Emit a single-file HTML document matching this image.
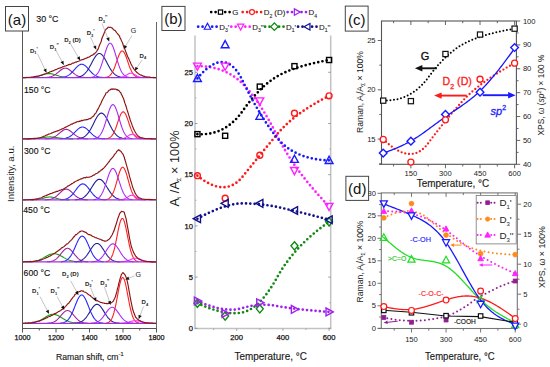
<!DOCTYPE html>
<html><head><meta charset="utf-8"><style>
html,body{margin:0;padding:0;background:#fff;width:550px;height:367px;overflow:hidden}
svg{display:block;font-family:"Liberation Sans", sans-serif}
</style></head><body>
<svg width="550" height="367" viewBox="0 0 550 367">
<rect width="550" height="367" fill="#fff"/>
<polyline fill="none" stroke="#10a010" stroke-width="1.1" stroke-linejoin="round"  points="25.58,77.58 26.37,77.57 27.16,77.55 27.96,77.54 28.75,77.51 29.55,77.48 30.34,77.44 31.13,77.40 31.93,77.34 32.72,77.26 33.52,77.17 34.31,77.07 35.10,76.94 35.90,76.79 36.69,76.63 37.49,76.44 38.28,76.23 39.07,76.00 39.87,75.76 40.66,75.51 41.46,75.25 42.25,74.99 43.04,74.73 43.84,74.48 44.63,74.25 45.43,74.05 46.22,73.88 47.01,73.74 47.81,73.65 48.60,73.61 49.40,73.61 50.19,73.65 50.99,73.74 51.78,73.88 52.57,74.05 53.37,74.25 54.16,74.48 54.96,74.73 55.75,74.99 56.54,75.25 57.34,75.51 58.13,75.76 58.93,76.00 59.72,76.23 60.51,76.44 61.31,76.63 62.10,76.79 62.90,76.94 63.69,77.07 64.48,77.17 65.28,77.26 66.07,77.34 66.87,77.40 67.66,77.44 68.45,77.48 69.25,77.51 70.04,77.54 70.84,77.55 71.63,77.57 72.42,77.58"/>
<polyline fill="none" stroke="#a020a0" stroke-width="1.1" stroke-linejoin="round"  points="43.83,77.54 44.56,77.52 45.28,77.49 46.01,77.45 46.74,77.40 47.47,77.32 48.20,77.24 48.92,77.12 49.65,76.98 50.38,76.81 51.11,76.60 51.83,76.35 52.56,76.05 53.29,75.71 54.02,75.31 54.75,74.87 55.47,74.38 56.20,73.85 56.93,73.28 57.66,72.69 58.39,72.07 59.11,71.46 59.84,70.85 60.57,70.27 61.30,69.73 62.02,69.26 62.75,68.85 63.48,68.54 64.21,68.32 64.94,68.21 65.66,68.21 66.39,68.32 67.12,68.54 67.85,68.85 68.58,69.26 69.30,69.73 70.03,70.27 70.76,70.85 71.49,71.46 72.21,72.07 72.94,72.69 73.67,73.28 74.40,73.85 75.13,74.38 75.85,74.87 76.58,75.31 77.31,75.71 78.04,76.05 78.77,76.35 79.49,76.60 80.22,76.81 80.95,76.98 81.68,77.12 82.40,77.24 83.13,77.32 83.86,77.40 84.59,77.45 85.32,77.49 86.04,77.52 86.77,77.54"/>
<polyline fill="none" stroke="#2828ff" stroke-width="1.1" stroke-linejoin="round"  points="59.06,77.52 59.82,77.49 60.59,77.44 61.36,77.38 62.13,77.31 62.89,77.21 63.66,77.08 64.43,76.92 65.20,76.72 65.96,76.47 66.73,76.17 67.50,75.81 68.27,75.39 69.04,74.90 69.80,74.34 70.57,73.71 71.34,73.01 72.11,72.26 72.87,71.45 73.64,70.60 74.41,69.72 75.18,68.84 75.94,67.98 76.71,67.15 77.48,66.38 78.25,65.71 79.01,65.13 79.78,64.68 80.55,64.38 81.32,64.22 82.08,64.22 82.85,64.38 83.62,64.68 84.39,65.13 85.15,65.71 85.92,66.38 86.69,67.15 87.46,67.98 88.22,68.84 88.99,69.72 89.76,70.60 90.53,71.45 91.29,72.26 92.06,73.01 92.83,73.71 93.60,74.34 94.36,74.90 95.13,75.39 95.90,75.81 96.67,76.17 97.44,76.47 98.20,76.72 98.97,76.92 99.74,77.08 100.51,77.21 101.27,77.31 102.04,77.38 102.81,77.44 103.58,77.49 104.34,77.52"/>
<polyline fill="none" stroke="#202098" stroke-width="1.1" stroke-linejoin="round"  points="74.80,77.46 75.64,77.40 76.47,77.32 77.31,77.21 78.14,77.07 78.97,76.89 79.81,76.66 80.64,76.37 81.47,76.01 82.31,75.57 83.14,75.03 83.98,74.38 84.81,73.62 85.64,72.74 86.48,71.74 87.31,70.60 88.14,69.35 88.98,67.99 89.81,66.53 90.65,65.00 91.48,63.43 92.31,61.85 93.15,60.29 93.98,58.80 94.81,57.43 95.65,56.21 96.48,55.18 97.32,54.37 98.15,53.82 98.98,53.54 99.82,53.54 100.65,53.82 101.48,54.37 102.32,55.18 103.15,56.21 103.99,57.43 104.82,58.80 105.65,60.29 106.49,61.85 107.32,63.43 108.15,65.00 108.99,66.53 109.82,67.99 110.66,69.35 111.49,70.60 112.32,71.74 113.16,72.74 113.99,73.62 114.82,74.38 115.66,75.03 116.49,75.57 117.33,76.01 118.16,76.37 118.99,76.66 119.83,76.89 120.66,77.07 121.49,77.21 122.33,77.32 123.16,77.40 124.00,77.46"/>
<polyline fill="none" stroke="#ff2020" stroke-width="1.1" stroke-linejoin="round"  points="104.63,77.44 105.23,77.38 105.82,77.29 106.42,77.17 107.01,77.02 107.61,76.82 108.21,76.56 108.80,76.24 109.40,75.84 109.99,75.35 110.59,74.75 111.18,74.04 111.78,73.19 112.37,72.22 112.97,71.10 113.56,69.85 114.16,68.46 114.76,66.95 115.35,65.34 115.95,63.64 116.54,61.90 117.14,60.15 117.73,58.42 118.33,56.78 118.92,55.25 119.52,53.90 120.12,52.76 120.71,51.86 121.31,51.25 121.90,50.94 122.50,50.94 123.09,51.25 123.69,51.86 124.28,52.76 124.88,53.90 125.48,55.25 126.07,56.78 126.67,58.42 127.26,60.15 127.86,61.90 128.45,63.64 129.05,65.34 129.64,66.95 130.24,68.46 130.84,69.85 131.43,71.10 132.03,72.22 132.62,73.19 133.22,74.04 133.81,74.75 134.41,75.35 135.00,75.84 135.60,76.24 136.19,76.56 136.79,76.82 137.39,77.02 137.98,77.17 138.58,77.29 139.17,77.38 139.77,77.44"/>
<polyline fill="none" stroke="#ff30ff" stroke-width="1.1" stroke-linejoin="round"  points="117.24,77.57 117.70,77.56 118.16,77.55 118.63,77.53 119.09,77.50 119.55,77.47 120.02,77.43 120.48,77.38 120.94,77.31 121.40,77.23 121.87,77.13 122.33,77.01 122.79,76.87 123.26,76.71 123.72,76.53 124.18,76.32 124.65,76.09 125.11,75.85 125.57,75.58 126.04,75.30 126.50,75.01 126.96,74.72 127.43,74.44 127.89,74.17 128.35,73.92 128.82,73.69 129.28,73.51 129.74,73.36 130.21,73.26 130.67,73.21 131.13,73.21 131.59,73.26 132.06,73.36 132.52,73.51 132.98,73.69 133.45,73.92 133.91,74.17 134.37,74.44 134.84,74.72 135.30,75.01 135.76,75.30 136.23,75.58 136.69,75.85 137.15,76.09 137.62,76.32 138.08,76.53 138.54,76.71 139.01,76.87 139.47,77.01 139.93,77.13 140.40,77.23 140.86,77.31 141.32,77.38 141.78,77.43 142.25,77.47 142.71,77.50 143.17,77.53 143.64,77.55 144.10,77.56 144.56,77.57"/>
<polyline fill="none" stroke="#a82cf6" stroke-width="1.1" stroke-linejoin="round"  points="90.58,77.39 91.24,77.31 91.90,77.20 92.57,77.05 93.23,76.85 93.89,76.59 94.55,76.26 95.21,75.85 95.87,75.33 96.54,74.70 97.20,73.93 97.86,73.01 98.52,71.92 99.18,70.67 99.84,69.23 100.51,67.62 101.17,65.83 101.83,63.88 102.49,61.80 103.15,59.62 103.81,57.37 104.48,55.11 105.14,52.89 105.80,50.77 106.46,48.81 107.12,47.06 107.78,45.59 108.45,44.44 109.11,43.65 109.77,43.25 110.43,43.25 111.09,43.65 111.75,44.44 112.42,45.59 113.08,47.06 113.74,48.81 114.40,50.77 115.06,52.89 115.72,55.11 116.39,57.37 117.05,59.62 117.71,61.80 118.37,63.88 119.03,65.83 119.69,67.62 120.36,69.23 121.02,70.67 121.68,71.92 122.34,73.01 123.00,73.93 123.66,74.70 124.33,75.33 124.99,75.85 125.65,76.26 126.31,76.59 126.97,76.85 127.63,77.05 128.30,77.20 128.96,77.31 129.62,77.39"/>
<line x1="22.50" y1="77.60" x2="156.50" y2="77.60" stroke="#a030e0" stroke-width="1.2" />
<polyline fill="none" stroke="#8a1414" stroke-width="1.15" stroke-linejoin="round"  points="22.50,77.64 23.17,77.56 23.85,77.82 24.52,77.54 25.19,77.56 25.87,77.68 26.54,77.41 27.21,77.41 27.89,77.45 28.56,77.36 29.23,77.23 29.91,77.29 30.58,77.22 31.25,77.26 31.93,76.96 32.60,76.98 33.27,77.07 33.95,77.04 34.62,76.59 35.29,76.69 35.97,76.39 36.64,76.27 37.31,76.13 37.99,76.03 38.66,76.03 39.33,75.83 40.01,75.58 40.68,75.34 41.35,75.16 42.03,74.93 42.70,74.79 43.37,74.39 44.05,74.21 44.72,73.95 45.39,73.71 46.07,73.49 46.74,73.23 47.41,73.11 48.09,72.68 48.76,72.61 49.43,72.12 50.11,71.82 50.78,71.62 51.45,71.37 52.13,71.08 52.80,70.94 53.47,70.64 54.15,70.29 54.82,69.91 55.49,69.67 56.17,69.60 56.84,69.18 57.52,68.70 58.19,68.52 58.86,68.27 59.54,68.24 60.21,67.80 60.88,67.88 61.56,67.40 62.23,67.07 62.90,66.74 63.58,66.71 64.25,66.30 64.92,65.98 65.60,65.96 66.27,65.65 66.94,65.60 67.62,65.19 68.29,64.55 68.96,64.87 69.64,64.23 70.31,64.51 70.98,64.31 71.66,63.71 72.33,63.33 73.00,63.02 73.68,63.10 74.35,62.65 75.02,62.31 75.70,62.09 76.37,62.20 77.04,61.65 77.72,61.45 78.39,61.21 79.06,61.01 79.74,60.78 80.41,60.25 81.08,60.10 81.76,59.77 82.43,59.54 83.10,59.62 83.78,59.08 84.45,58.90 85.12,58.52 85.80,58.25 86.47,58.21 87.14,57.69 87.82,57.38 88.49,57.25 89.16,56.92 89.84,56.64 90.51,56.16 91.18,55.43 91.86,55.49 92.53,55.05 93.20,54.72 93.88,53.90 94.55,54.05 95.22,52.74 95.90,52.46 96.57,51.50 97.24,50.38 97.92,49.43 98.59,47.76 99.26,45.70 99.94,44.20 100.61,42.70 101.28,41.17 101.96,38.25 102.63,36.72 103.30,35.34 103.98,33.52 104.65,31.84 105.32,30.34 106.00,29.27 106.67,28.80 107.34,28.31 108.02,27.28 108.69,27.12 109.36,27.53 110.04,27.28 110.71,27.29 111.38,27.63 112.06,27.84 112.73,28.77 113.40,29.45 114.08,30.10 114.75,30.27 115.42,30.92 116.10,31.84 116.77,32.74 117.44,33.58 118.12,34.52 118.79,35.11 119.46,36.04 120.14,37.98 120.81,39.13 121.48,40.67 122.16,42.13 122.83,43.77 123.51,46.16 124.18,47.71 124.85,49.11 125.53,51.12 126.20,52.78 126.87,54.49 127.55,56.45 128.22,57.63 128.89,58.97 129.57,60.71 130.24,62.06 130.91,63.66 131.59,64.98 132.26,66.30 132.93,67.39 133.61,68.63 134.28,69.49 134.95,70.48 135.63,71.14 136.30,71.73 136.97,72.56 137.65,72.98 138.32,73.74 138.99,74.08 139.67,74.48 140.34,74.81 141.01,75.12 141.69,75.18 142.36,75.86 143.03,75.90 143.71,76.32 144.38,76.35 145.05,76.57 145.73,76.70 146.40,76.73 147.07,76.91 147.75,77.06 148.42,77.05 149.09,77.04 149.77,77.18 150.44,77.32 151.11,77.47 151.79,77.49 152.46,77.48 153.13,77.40 153.81,77.62 154.48,77.56 155.15,77.55 155.83,77.68 156.50,77.66"/>
<text x="36.30" y="22.00" font-size="9.4" fill="#111" text-anchor="start" textLength="22.2" lengthAdjust="spacingAndGlyphs" stroke="#111" stroke-width="0.15">30 °C</text>
<polyline fill="none" stroke="#10a010" stroke-width="1.1" stroke-linejoin="round"  points="26.58,138.89 27.37,138.88 28.16,138.88 28.96,138.87 29.75,138.86 30.55,138.84 31.34,138.82 32.13,138.80 32.93,138.77 33.72,138.73 34.52,138.69 35.31,138.63 36.10,138.57 36.90,138.50 37.69,138.41 38.49,138.32 39.28,138.22 40.07,138.10 40.87,137.98 41.66,137.85 42.46,137.72 43.25,137.59 44.04,137.46 44.84,137.34 45.63,137.23 46.43,137.12 47.22,137.04 48.01,136.97 48.81,136.93 49.60,136.90 50.40,136.90 51.19,136.93 51.99,136.97 52.78,137.04 53.57,137.12 54.37,137.23 55.16,137.34 55.96,137.46 56.75,137.59 57.54,137.72 58.34,137.85 59.13,137.98 59.93,138.10 60.72,138.22 61.51,138.32 62.31,138.41 63.10,138.50 63.90,138.57 64.69,138.63 65.48,138.69 66.28,138.73 67.07,138.77 67.87,138.80 68.66,138.82 69.45,138.84 70.25,138.86 71.04,138.87 71.84,138.88 72.63,138.88 73.42,138.89"/>
<polyline fill="none" stroke="#a020a0" stroke-width="1.1" stroke-linejoin="round"  points="44.73,138.84 45.46,138.82 46.18,138.79 46.91,138.75 47.64,138.69 48.37,138.62 49.10,138.53 49.82,138.42 50.55,138.27 51.28,138.10 52.01,137.89 52.73,137.63 53.46,137.33 54.19,136.99 54.92,136.59 55.65,136.14 56.37,135.65 57.10,135.11 57.83,134.54 58.56,133.93 59.29,133.31 60.01,132.69 60.74,132.08 61.47,131.49 62.20,130.95 62.92,130.47 63.65,130.06 64.38,129.74 65.11,129.52 65.84,129.41 66.56,129.41 67.29,129.52 68.02,129.74 68.75,130.06 69.48,130.47 70.20,130.95 70.93,131.49 71.66,132.08 72.39,132.69 73.11,133.31 73.84,133.93 74.57,134.54 75.30,135.11 76.03,135.65 76.75,136.14 77.48,136.59 78.21,136.99 78.94,137.33 79.67,137.63 80.39,137.89 81.12,138.10 81.85,138.27 82.58,138.42 83.30,138.53 84.03,138.62 84.76,138.69 85.49,138.75 86.22,138.79 86.94,138.82 87.67,138.84"/>
<polyline fill="none" stroke="#2828ff" stroke-width="1.1" stroke-linejoin="round"  points="59.86,138.83 60.62,138.80 61.39,138.76 62.16,138.71 62.93,138.64 63.69,138.55 64.46,138.44 65.23,138.29 66.00,138.12 66.76,137.90 67.53,137.63 68.30,137.31 69.07,136.94 69.84,136.50 70.60,136.00 71.37,135.45 72.14,134.83 72.91,134.15 73.67,133.43 74.44,132.68 75.21,131.90 75.98,131.12 76.74,130.35 77.51,129.62 78.28,128.94 79.05,128.34 79.81,127.83 80.58,127.43 81.35,127.16 82.12,127.02 82.88,127.02 83.65,127.16 84.42,127.43 85.19,127.83 85.95,128.34 86.72,128.94 87.49,129.62 88.26,130.35 89.02,131.12 89.79,131.90 90.56,132.68 91.33,133.43 92.09,134.15 92.86,134.83 93.63,135.45 94.40,136.00 95.16,136.50 95.93,136.94 96.70,137.31 97.47,137.63 98.24,137.90 99.00,138.12 99.77,138.29 100.54,138.44 101.31,138.55 102.07,138.64 102.84,138.71 103.61,138.76 104.38,138.80 105.14,138.83"/>
<polyline fill="none" stroke="#202098" stroke-width="1.1" stroke-linejoin="round"  points="76.80,138.75 77.64,138.68 78.47,138.60 79.31,138.49 80.14,138.34 80.97,138.15 81.81,137.90 82.64,137.59 83.47,137.20 84.31,136.72 85.14,136.15 85.98,135.46 86.81,134.64 87.64,133.70 88.48,132.62 89.31,131.41 90.14,130.07 90.98,128.61 91.81,127.05 92.65,125.41 93.48,123.73 94.31,122.03 95.15,120.37 95.98,118.78 96.81,117.31 97.65,116.00 98.48,114.89 99.32,114.03 100.15,113.44 100.98,113.14 101.82,113.14 102.65,113.44 103.48,114.03 104.32,114.89 105.15,116.00 105.99,117.31 106.82,118.78 107.65,120.37 108.49,122.03 109.32,123.73 110.15,125.41 110.99,127.05 111.82,128.61 112.66,130.07 113.49,131.41 114.32,132.62 115.16,133.70 115.99,134.64 116.82,135.46 117.66,136.15 118.49,136.72 119.33,137.20 120.16,137.59 120.99,137.90 121.83,138.15 122.66,138.34 123.49,138.49 124.33,138.60 125.16,138.68 126.00,138.75"/>
<polyline fill="none" stroke="#ff2020" stroke-width="1.1" stroke-linejoin="round"  points="105.63,138.74 106.23,138.67 106.82,138.58 107.42,138.46 108.01,138.31 108.61,138.11 109.21,137.85 109.80,137.52 110.40,137.11 110.99,136.61 111.59,136.01 112.18,135.28 112.78,134.43 113.37,133.44 113.97,132.31 114.56,131.03 115.16,129.63 115.76,128.09 116.35,126.45 116.95,124.73 117.54,122.96 118.14,121.18 118.73,119.44 119.33,117.76 119.92,116.22 120.52,114.84 121.12,113.68 121.71,112.78 122.31,112.16 122.90,111.84 123.50,111.84 124.09,112.16 124.69,112.78 125.28,113.68 125.88,114.84 126.48,116.22 127.07,117.76 127.67,119.44 128.26,121.18 128.86,122.96 129.45,124.73 130.05,126.45 130.64,128.09 131.24,129.63 131.84,131.03 132.43,132.31 133.03,133.44 133.62,134.43 134.22,135.28 134.81,136.01 135.41,136.61 136.00,137.11 136.60,137.52 137.19,137.85 137.79,138.11 138.39,138.31 138.98,138.46 139.58,138.58 140.17,138.67 140.77,138.74"/>
<polyline fill="none" stroke="#ff30ff" stroke-width="1.1" stroke-linejoin="round"  points="118.54,138.87 119.00,138.86 119.46,138.85 119.93,138.83 120.39,138.80 120.85,138.77 121.32,138.72 121.78,138.67 122.24,138.60 122.70,138.51 123.17,138.41 123.63,138.29 124.09,138.14 124.56,137.97 125.02,137.78 125.48,137.56 125.95,137.33 126.41,137.07 126.87,136.79 127.34,136.50 127.80,136.20 128.26,135.89 128.73,135.60 129.19,135.31 129.65,135.05 130.12,134.82 130.58,134.62 131.04,134.47 131.51,134.36 131.97,134.31 132.43,134.31 132.89,134.36 133.36,134.47 133.82,134.62 134.28,134.82 134.75,135.05 135.21,135.31 135.67,135.60 136.14,135.89 136.60,136.20 137.06,136.50 137.53,136.79 137.99,137.07 138.45,137.33 138.92,137.56 139.38,137.78 139.84,137.97 140.31,138.14 140.77,138.29 141.23,138.41 141.70,138.51 142.16,138.60 142.62,138.67 143.08,138.72 143.55,138.77 144.01,138.80 144.47,138.83 144.94,138.85 145.40,138.86 145.86,138.87"/>
<polyline fill="none" stroke="#a82cf6" stroke-width="1.1" stroke-linejoin="round"  points="93.38,138.70 94.04,138.61 94.70,138.50 95.37,138.35 96.03,138.15 96.69,137.90 97.35,137.57 98.01,137.16 98.67,136.64 99.34,136.01 100.00,135.24 100.66,134.32 101.32,133.24 101.98,131.99 102.64,130.55 103.31,128.94 103.97,127.16 104.63,125.22 105.29,123.15 105.95,120.97 106.61,118.73 107.28,116.48 107.94,114.26 108.60,112.15 109.26,110.19 109.92,108.45 110.58,106.99 111.25,105.84 111.91,105.05 112.57,104.65 113.23,104.65 113.89,105.05 114.55,105.84 115.22,106.99 115.88,108.45 116.54,110.19 117.20,112.15 117.86,114.26 118.52,116.48 119.19,118.73 119.85,120.97 120.51,123.15 121.17,125.22 121.83,127.16 122.49,128.94 123.16,130.55 123.82,131.99 124.48,133.24 125.14,134.32 125.80,135.24 126.46,136.01 127.13,136.64 127.79,137.16 128.45,137.57 129.11,137.90 129.77,138.15 130.43,138.35 131.10,138.50 131.76,138.61 132.42,138.70"/>
<line x1="22.50" y1="138.90" x2="156.50" y2="138.90" stroke="#a030e0" stroke-width="1.2" />
<polyline fill="none" stroke="#8a1414" stroke-width="1.15" stroke-linejoin="round"  points="22.50,138.95 23.17,138.78 23.85,138.82 24.52,138.70 25.19,138.88 25.87,138.85 26.54,138.92 27.21,138.83 27.89,138.75 28.56,138.97 29.23,138.63 29.91,138.57 30.58,138.62 31.25,138.71 31.93,138.59 32.60,138.54 33.27,138.43 33.95,138.65 34.62,138.39 35.29,138.29 35.97,138.33 36.64,138.20 37.31,138.19 37.99,138.27 38.66,137.98 39.33,137.89 40.01,137.69 40.68,137.51 41.35,137.39 42.03,137.12 42.70,136.75 43.37,136.41 44.05,136.21 44.72,136.03 45.39,135.65 46.07,135.37 46.74,134.90 47.41,134.96 48.09,134.41 48.76,134.16 49.43,134.00 50.11,133.78 50.78,133.50 51.45,133.13 52.13,132.91 52.80,132.60 53.47,132.17 54.15,132.09 54.82,131.77 55.49,131.64 56.17,131.30 56.84,131.19 57.52,130.89 58.19,130.66 58.86,130.44 59.54,130.10 60.21,129.72 60.88,129.65 61.56,129.05 62.23,128.88 62.90,128.70 63.58,128.22 64.25,128.03 64.92,127.46 65.60,127.14 66.27,126.93 66.94,126.59 67.62,126.31 68.29,125.76 68.96,125.47 69.64,125.19 70.31,124.84 70.98,124.24 71.66,124.05 72.33,124.07 73.00,123.34 73.68,123.35 74.35,122.89 75.02,122.86 75.70,122.31 76.37,122.20 77.04,121.63 77.72,121.75 78.39,121.74 79.06,121.13 79.74,121.41 80.41,120.93 81.08,120.89 81.76,120.26 82.43,120.78 83.10,120.29 83.78,120.19 84.45,119.91 85.12,119.80 85.80,120.01 86.47,119.56 87.14,119.65 87.82,119.28 88.49,119.17 89.16,118.77 89.84,118.65 90.51,118.70 91.18,117.94 91.86,117.43 92.53,116.71 93.20,116.38 93.88,115.75 94.55,114.35 95.22,113.49 95.90,113.14 96.57,111.64 97.24,110.35 97.92,109.15 98.59,107.97 99.26,106.60 99.94,105.05 100.61,104.27 101.28,102.42 101.96,100.82 102.63,99.51 103.30,98.27 103.98,96.92 104.65,95.78 105.32,94.86 106.00,92.91 106.67,92.76 107.34,92.47 108.02,91.63 108.69,90.59 109.36,90.01 110.04,90.03 110.71,89.24 111.38,88.90 112.06,89.48 112.73,88.78 113.40,89.13 114.08,88.99 114.75,89.13 115.42,88.97 116.10,89.18 116.77,90.01 117.44,89.56 118.12,90.33 118.79,90.38 119.46,91.31 120.14,92.19 120.81,92.72 121.48,94.62 122.16,95.51 122.83,97.32 123.51,98.39 124.18,100.73 124.85,103.11 125.53,104.73 126.20,106.72 126.87,109.17 127.55,111.29 128.22,113.42 128.89,115.63 129.57,117.72 130.24,119.99 130.91,121.84 131.59,123.65 132.26,125.68 132.93,127.21 133.61,129.18 134.28,130.23 134.95,131.49 135.63,132.68 136.30,133.81 136.97,134.58 137.65,135.30 138.32,136.28 138.99,136.50 139.67,137.21 140.34,137.37 141.01,137.48 141.69,137.96 142.36,137.93 143.03,137.99 143.71,138.22 144.38,138.44 145.05,138.47 145.73,138.55 146.40,138.70 147.07,138.59 147.75,138.65 148.42,138.63 149.09,138.54 149.77,138.71 150.44,138.91 151.11,138.61 151.79,138.94 152.46,138.86 153.13,138.76 153.81,138.87 154.48,139.06 155.15,138.83 155.83,138.97 156.50,139.01"/>
<text x="24.00" y="93.10" font-size="9.4" fill="#111" text-anchor="start" textLength="26.6" lengthAdjust="spacingAndGlyphs" stroke="#111" stroke-width="0.15">150 °C</text>
<polyline fill="none" stroke="#10a010" stroke-width="1.1" stroke-linejoin="round"  points="30.28,199.88 30.94,199.88 31.60,199.87 32.27,199.85 32.93,199.84 33.59,199.82 34.25,199.79 34.91,199.75 35.57,199.71 36.24,199.66 36.90,199.59 37.56,199.51 38.22,199.42 38.88,199.32 39.54,199.19 40.21,199.06 40.87,198.91 41.53,198.74 42.19,198.57 42.85,198.38 43.51,198.19 44.18,198.00 44.84,197.82 45.50,197.64 46.16,197.47 46.82,197.33 47.48,197.20 48.15,197.10 48.81,197.04 49.47,197.00 50.13,197.00 50.79,197.04 51.45,197.10 52.12,197.20 52.78,197.33 53.44,197.47 54.10,197.64 54.76,197.82 55.42,198.00 56.09,198.19 56.75,198.38 57.41,198.57 58.07,198.74 58.73,198.91 59.39,199.06 60.06,199.19 60.72,199.32 61.38,199.42 62.04,199.51 62.70,199.59 63.36,199.66 64.03,199.71 64.69,199.75 65.35,199.79 66.01,199.82 66.67,199.84 67.33,199.85 68.00,199.87 68.66,199.88 69.32,199.88"/>
<polyline fill="none" stroke="#a020a0" stroke-width="1.1" stroke-linejoin="round"  points="44.73,199.84 45.46,199.81 46.18,199.77 46.91,199.73 47.64,199.66 48.37,199.58 49.10,199.48 49.82,199.35 50.55,199.19 51.28,198.99 52.01,198.75 52.73,198.46 53.46,198.12 54.19,197.72 54.92,197.27 55.65,196.77 56.37,196.20 57.10,195.59 57.83,194.94 58.56,194.25 59.29,193.55 60.01,192.84 60.74,192.14 61.47,191.48 62.20,190.86 62.92,190.31 63.65,189.85 64.38,189.49 65.11,189.24 65.84,189.12 66.56,189.12 67.29,189.24 68.02,189.49 68.75,189.85 69.48,190.31 70.20,190.86 70.93,191.48 71.66,192.14 72.39,192.84 73.11,193.55 73.84,194.25 74.57,194.94 75.30,195.59 76.03,196.20 76.75,196.77 77.48,197.27 78.21,197.72 78.94,198.12 79.67,198.46 80.39,198.75 81.12,198.99 81.85,199.19 82.58,199.35 83.30,199.48 84.03,199.58 84.76,199.66 85.49,199.73 86.22,199.77 86.94,199.81 87.67,199.84"/>
<polyline fill="none" stroke="#2828ff" stroke-width="1.1" stroke-linejoin="round"  points="60.16,199.80 60.92,199.77 61.69,199.71 62.46,199.64 63.23,199.55 63.99,199.43 64.76,199.28 65.53,199.09 66.30,198.85 67.06,198.55 67.83,198.19 68.60,197.76 69.37,197.26 70.14,196.68 70.90,196.01 71.67,195.26 72.44,194.42 73.21,193.52 73.97,192.55 74.74,191.54 75.51,190.49 76.28,189.44 77.04,188.41 77.81,187.42 78.58,186.51 79.35,185.70 80.11,185.01 80.88,184.48 81.65,184.11 82.42,183.92 83.18,183.92 83.95,184.11 84.72,184.48 85.49,185.01 86.25,185.70 87.02,186.51 87.79,187.42 88.56,188.41 89.32,189.44 90.09,190.49 90.86,191.54 91.63,192.55 92.39,193.52 93.16,194.42 93.93,195.26 94.70,196.01 95.46,196.68 96.23,197.26 97.00,197.76 97.77,198.19 98.54,198.55 99.30,198.85 100.07,199.09 100.84,199.28 101.61,199.43 102.37,199.55 103.14,199.64 103.91,199.71 104.68,199.77 105.44,199.80"/>
<polyline fill="none" stroke="#202098" stroke-width="1.1" stroke-linejoin="round"  points="74.80,199.78 75.64,199.73 76.47,199.66 77.31,199.57 78.14,199.45 78.97,199.30 79.81,199.10 80.64,198.85 81.47,198.54 82.31,198.16 83.14,197.70 83.98,197.15 84.81,196.50 85.64,195.75 86.48,194.89 87.31,193.92 88.14,192.85 88.98,191.68 89.81,190.44 90.65,189.13 91.48,187.79 92.31,186.43 93.15,185.10 93.98,183.83 94.81,182.66 95.65,181.61 96.48,180.73 97.32,180.04 98.15,179.57 98.98,179.33 99.82,179.33 100.65,179.57 101.48,180.04 102.32,180.73 103.15,181.61 103.99,182.66 104.82,183.83 105.65,185.10 106.49,186.43 107.32,187.79 108.15,189.13 108.99,190.44 109.82,191.68 110.66,192.85 111.49,193.92 112.32,194.89 113.16,195.75 113.99,196.50 114.82,197.15 115.66,197.70 116.49,198.16 117.33,198.54 118.16,198.85 118.99,199.10 119.83,199.30 120.66,199.45 121.49,199.57 122.33,199.66 123.16,199.73 124.00,199.78"/>
<polyline fill="none" stroke="#ff2020" stroke-width="1.1" stroke-linejoin="round"  points="105.13,199.70 105.73,199.63 106.32,199.52 106.92,199.37 107.51,199.19 108.11,198.94 108.71,198.63 109.30,198.24 109.90,197.75 110.49,197.14 111.09,196.41 111.68,195.53 112.28,194.50 112.87,193.31 113.47,191.94 114.06,190.41 114.66,188.71 115.26,186.86 115.85,184.88 116.45,182.81 117.04,180.67 117.64,178.52 118.23,176.41 118.83,174.40 119.42,172.53 120.02,170.87 120.62,169.47 121.21,168.38 121.81,167.63 122.40,167.25 123.00,167.25 123.59,167.63 124.19,168.38 124.78,169.47 125.38,170.87 125.98,172.53 126.57,174.40 127.17,176.41 127.76,178.52 128.36,180.67 128.95,182.81 129.55,184.88 130.14,186.86 130.74,188.71 131.34,190.41 131.93,191.94 132.53,193.31 133.12,194.50 133.72,195.53 134.31,196.41 134.91,197.14 135.50,197.75 136.10,198.24 136.69,198.63 137.29,198.94 137.89,199.19 138.48,199.37 139.08,199.52 139.67,199.63 140.27,199.70"/>
<polyline fill="none" stroke="#ff30ff" stroke-width="1.1" stroke-linejoin="round"  points="118.14,199.87 118.60,199.86 119.06,199.85 119.53,199.83 119.99,199.80 120.45,199.77 120.92,199.72 121.38,199.67 121.84,199.60 122.30,199.51 122.77,199.41 123.23,199.29 123.69,199.14 124.16,198.97 124.62,198.78 125.08,198.56 125.55,198.33 126.01,198.07 126.47,197.79 126.94,197.50 127.40,197.20 127.86,196.89 128.33,196.60 128.79,196.31 129.25,196.05 129.72,195.82 130.18,195.62 130.64,195.47 131.11,195.36 131.57,195.31 132.03,195.31 132.49,195.36 132.96,195.47 133.42,195.62 133.88,195.82 134.35,196.05 134.81,196.31 135.27,196.60 135.74,196.89 136.20,197.20 136.66,197.50 137.13,197.79 137.59,198.07 138.05,198.33 138.52,198.56 138.98,198.78 139.44,198.97 139.91,199.14 140.37,199.29 140.83,199.41 141.30,199.51 141.76,199.60 142.22,199.67 142.68,199.72 143.15,199.77 143.61,199.80 144.07,199.83 144.54,199.85 145.00,199.86 145.46,199.87"/>
<polyline fill="none" stroke="#a82cf6" stroke-width="1.1" stroke-linejoin="round"  points="93.38,199.71 94.04,199.64 94.70,199.53 95.37,199.39 96.03,199.21 96.69,198.98 97.35,198.68 98.01,198.30 98.67,197.82 99.34,197.24 100.00,196.54 100.66,195.69 101.32,194.70 101.98,193.55 102.64,192.24 103.31,190.76 103.97,189.12 104.63,187.34 105.29,185.43 105.95,183.43 106.61,181.38 107.28,179.31 107.94,177.28 108.60,175.33 109.26,173.54 109.92,171.94 110.58,170.59 111.25,169.54 111.91,168.81 112.57,168.45 113.23,168.45 113.89,168.81 114.55,169.54 115.22,170.59 115.88,171.94 116.54,173.54 117.20,175.33 117.86,177.28 118.52,179.31 119.19,181.38 119.85,183.43 120.51,185.43 121.17,187.34 121.83,189.12 122.49,190.76 123.16,192.24 123.82,193.55 124.48,194.70 125.14,195.69 125.80,196.54 126.46,197.24 127.13,197.82 127.79,198.30 128.45,198.68 129.11,198.98 129.77,199.21 130.43,199.39 131.10,199.53 131.76,199.64 132.42,199.71"/>
<line x1="22.50" y1="199.90" x2="156.50" y2="199.90" stroke="#a030e0" stroke-width="1.2" />
<polyline fill="none" stroke="#8a1414" stroke-width="1.15" stroke-linejoin="round"  points="22.50,199.81 23.17,199.96 23.85,199.94 24.52,199.83 25.19,199.93 25.87,199.81 26.54,199.78 27.21,199.69 27.89,199.83 28.56,199.72 29.23,199.68 29.91,199.59 30.58,199.53 31.25,199.55 31.93,199.65 32.60,199.43 33.27,199.58 33.95,199.39 34.62,199.27 35.29,199.03 35.97,199.25 36.64,198.78 37.31,198.86 37.99,198.84 38.66,198.49 39.33,198.25 40.01,198.11 40.68,197.97 41.35,197.76 42.03,197.39 42.70,196.90 43.37,196.64 44.05,196.42 44.72,195.94 45.39,195.76 46.07,195.76 46.74,195.09 47.41,195.08 48.09,194.55 48.76,194.36 49.43,194.12 50.11,193.67 50.78,193.58 51.45,193.50 52.13,193.16 52.80,192.90 53.47,192.46 54.15,192.29 54.82,192.09 55.49,191.92 56.17,191.79 56.84,191.26 57.52,191.41 58.19,190.93 58.86,190.72 59.54,190.37 60.21,190.31 60.88,190.05 61.56,189.65 62.23,189.51 62.90,189.28 63.58,188.87 64.25,188.69 64.92,188.04 65.60,187.91 66.27,187.32 66.94,186.97 67.62,186.18 68.29,186.03 68.96,185.56 69.64,185.29 70.31,184.52 70.98,184.50 71.66,183.67 72.33,183.64 73.00,183.08 73.68,182.43 74.35,182.51 75.02,181.53 75.70,181.32 76.37,181.02 77.04,180.74 77.72,180.36 78.39,180.16 79.06,179.81 79.74,179.45 80.41,179.01 81.08,178.86 81.76,178.84 82.43,178.23 83.10,178.25 83.78,177.65 84.45,177.73 85.12,177.40 85.80,177.80 86.47,177.10 87.14,177.29 87.82,177.37 88.49,177.24 89.16,177.14 89.84,177.05 90.51,176.75 91.18,176.59 91.86,176.15 92.53,175.84 93.20,175.15 93.88,175.15 94.55,174.98 95.22,174.16 95.90,173.65 96.57,173.49 97.24,173.28 97.92,172.86 98.59,171.85 99.26,171.81 99.94,171.09 100.61,170.80 101.28,169.73 101.96,169.89 102.63,169.03 103.30,168.56 103.98,167.82 104.65,166.92 105.32,166.53 106.00,165.48 106.67,164.59 107.34,164.04 108.02,162.97 108.69,161.91 109.36,161.44 110.04,160.16 110.71,159.44 111.38,158.78 112.06,157.99 112.73,157.20 113.40,156.47 114.08,155.16 114.75,154.01 115.42,153.76 116.10,152.74 116.77,151.36 117.44,150.95 118.12,150.20 118.79,149.71 119.46,150.61 120.14,150.73 120.81,151.16 121.48,152.32 122.16,153.20 122.83,153.89 123.51,155.36 124.18,157.01 124.85,159.55 125.53,161.60 126.20,164.05 126.87,166.33 127.55,168.65 128.22,171.24 128.89,173.54 129.57,176.59 130.24,178.69 130.91,181.28 131.59,183.37 132.26,185.67 132.93,187.78 133.61,189.47 134.28,191.03 134.95,192.89 135.63,193.86 136.30,195.06 136.97,195.89 137.65,196.53 138.32,197.33 138.99,197.69 139.67,198.06 140.34,198.09 141.01,198.61 141.69,198.86 142.36,198.95 143.03,199.01 143.71,199.24 144.38,199.22 145.05,199.32 145.73,199.43 146.40,199.47 147.07,199.29 147.75,199.50 148.42,199.43 149.09,199.34 149.77,199.61 150.44,199.45 151.11,199.62 151.79,199.45 152.46,199.63 153.13,199.72 153.81,199.80 154.48,199.77 155.15,199.76 155.83,199.78 156.50,200.04"/>
<text x="24.00" y="154.00" font-size="9.4" fill="#111" text-anchor="start" textLength="26.6" lengthAdjust="spacingAndGlyphs" stroke="#111" stroke-width="0.15">300 °C</text>
<polyline fill="none" stroke="#10a010" stroke-width="1.1" stroke-linejoin="round"  points="25.79,261.85 26.74,261.83 27.70,261.80 28.65,261.77 29.60,261.72 30.56,261.66 31.51,261.58 32.46,261.48 33.41,261.36 34.37,261.21 35.32,261.02 36.27,260.81 37.23,260.55 38.18,260.25 39.13,259.90 40.08,259.52 41.04,259.09 41.99,258.63 42.94,258.13 43.90,257.61 44.85,257.08 45.80,256.54 46.75,256.01 47.71,255.50 48.66,255.04 49.61,254.62 50.57,254.27 51.52,254.00 52.47,253.81 53.42,253.71 54.38,253.71 55.33,253.81 56.28,254.00 57.23,254.27 58.19,254.62 59.14,255.04 60.09,255.50 61.05,256.01 62.00,256.54 62.95,257.08 63.90,257.61 64.86,258.13 65.81,258.63 66.76,259.09 67.72,259.52 68.67,259.90 69.62,260.25 70.57,260.55 71.53,260.81 72.48,261.02 73.43,261.21 74.39,261.36 75.34,261.48 76.29,261.58 77.24,261.66 78.20,261.72 79.15,261.77 80.10,261.80 81.06,261.83 82.01,261.85"/>
<polyline fill="none" stroke="#a020a0" stroke-width="1.1" stroke-linejoin="round"  points="46.81,261.82 47.51,261.79 48.21,261.74 48.91,261.68 49.61,261.60 50.32,261.50 51.02,261.37 51.72,261.21 52.42,261.00 53.12,260.75 53.82,260.45 54.52,260.08 55.23,259.66 55.93,259.16 56.63,258.59 57.33,257.95 58.03,257.25 58.73,256.48 59.43,255.65 60.14,254.79 60.84,253.90 61.54,253.01 62.24,252.13 62.94,251.29 63.64,250.52 64.34,249.83 65.05,249.25 65.75,248.79 66.45,248.48 67.15,248.32 67.85,248.32 68.55,248.48 69.25,248.79 69.95,249.25 70.66,249.83 71.36,250.52 72.06,251.29 72.76,252.13 73.46,253.01 74.16,253.90 74.86,254.79 75.57,255.65 76.27,256.48 76.97,257.25 77.67,257.95 78.37,258.59 79.07,259.16 79.77,259.66 80.48,260.08 81.18,260.45 81.88,260.75 82.58,261.00 83.28,261.21 83.98,261.37 84.68,261.50 85.39,261.60 86.09,261.68 86.79,261.74 87.49,261.79 88.19,261.82"/>
<polyline fill="none" stroke="#2828ff" stroke-width="1.1" stroke-linejoin="round"  points="60.73,261.75 61.46,261.68 62.18,261.60 62.91,261.49 63.64,261.34 64.37,261.15 65.10,260.90 65.82,260.59 66.55,260.20 67.28,259.72 68.01,259.15 68.73,258.46 69.46,257.64 70.19,256.70 70.92,255.62 71.65,254.41 72.37,253.07 73.10,251.61 73.83,250.05 74.56,248.41 75.29,246.73 76.01,245.03 76.74,243.37 77.47,241.78 78.20,240.31 78.92,239.00 79.65,237.89 80.38,237.03 81.11,236.44 81.84,236.14 82.56,236.14 83.29,236.44 84.02,237.03 84.75,237.89 85.48,239.00 86.20,240.31 86.93,241.78 87.66,243.37 88.39,245.03 89.11,246.73 89.84,248.41 90.57,250.05 91.30,251.61 92.03,253.07 92.75,254.41 93.48,255.62 94.21,256.70 94.94,257.64 95.67,258.46 96.39,259.15 97.12,259.72 97.85,260.20 98.58,260.59 99.30,260.90 100.03,261.15 100.76,261.34 101.49,261.49 102.22,261.60 102.94,261.68 103.67,261.75"/>
<polyline fill="none" stroke="#202098" stroke-width="1.1" stroke-linejoin="round"  points="74.36,261.79 75.12,261.74 75.89,261.68 76.66,261.60 77.43,261.50 78.19,261.36 78.96,261.18 79.73,260.96 80.50,260.68 81.26,260.34 82.03,259.92 82.80,259.43 83.57,258.85 84.34,258.17 85.10,257.40 85.87,256.53 86.64,255.57 87.41,254.52 88.17,253.40 88.94,252.23 89.71,251.02 90.48,249.81 91.24,248.61 92.01,247.47 92.78,246.42 93.55,245.48 94.31,244.69 95.08,244.07 95.85,243.64 96.62,243.43 97.38,243.43 98.15,243.64 98.92,244.07 99.69,244.69 100.45,245.48 101.22,246.42 101.99,247.47 102.76,248.61 103.52,249.81 104.29,251.02 105.06,252.23 105.83,253.40 106.59,254.52 107.36,255.57 108.13,256.53 108.90,257.40 109.66,258.17 110.43,258.85 111.20,259.43 111.97,259.92 112.74,260.34 113.50,260.68 114.27,260.96 115.04,261.18 115.81,261.36 116.57,261.50 117.34,261.60 118.11,261.68 118.88,261.74 119.64,261.79"/>
<polyline fill="none" stroke="#ff2020" stroke-width="1.1" stroke-linejoin="round"  points="105.90,261.64 106.46,261.53 107.01,261.39 107.57,261.20 108.13,260.95 108.68,260.63 109.24,260.21 109.79,259.69 110.35,259.03 110.91,258.23 111.46,257.26 112.02,256.09 112.57,254.72 113.13,253.13 113.68,251.32 114.24,249.27 114.80,247.01 115.35,244.55 115.91,241.92 116.46,239.16 117.02,236.32 117.58,233.46 118.13,230.66 118.69,227.97 119.24,225.49 119.80,223.29 120.35,221.42 120.91,219.97 121.47,218.97 122.02,218.46 122.58,218.46 123.13,218.97 123.69,219.97 124.25,221.42 124.80,223.29 125.36,225.49 125.91,227.97 126.47,230.66 127.02,233.46 127.58,236.32 128.14,239.16 128.69,241.92 129.25,244.55 129.80,247.01 130.36,249.27 130.92,251.32 131.47,253.13 132.03,254.72 132.58,256.09 133.14,257.26 133.69,258.23 134.25,259.03 134.81,259.69 135.36,260.21 135.92,260.63 136.47,260.95 137.03,261.20 137.59,261.39 138.14,261.53 138.70,261.64"/>
<polyline fill="none" stroke="#ff30ff" stroke-width="1.1" stroke-linejoin="round"  points="118.23,261.88 118.83,261.87 119.42,261.86 120.02,261.84 120.61,261.82 121.21,261.79 121.81,261.76 122.40,261.71 123.00,261.66 123.59,261.59 124.19,261.50 124.78,261.41 125.38,261.29 125.97,261.15 126.57,261.00 127.16,260.83 127.76,260.63 128.36,260.42 128.95,260.20 129.55,259.97 130.14,259.72 130.74,259.48 131.33,259.24 131.93,259.01 132.52,258.80 133.12,258.62 133.72,258.46 134.31,258.33 134.91,258.25 135.50,258.21 136.10,258.21 136.69,258.25 137.29,258.33 137.88,258.46 138.48,258.62 139.08,258.80 139.67,259.01 140.27,259.24 140.86,259.48 141.46,259.72 142.05,259.97 142.65,260.20 143.24,260.42 143.84,260.63 144.44,260.83 145.03,261.00 145.63,261.15 146.22,261.29 146.82,261.41 147.41,261.50 148.01,261.59 148.60,261.66 149.20,261.71 149.79,261.76 150.39,261.79 150.99,261.82 151.58,261.84 152.18,261.86 152.77,261.87 153.37,261.88"/>
<polyline fill="none" stroke="#a82cf6" stroke-width="1.1" stroke-linejoin="round"  points="91.43,261.79 92.16,261.75 92.88,261.69 93.61,261.61 94.34,261.51 95.07,261.37 95.80,261.20 96.52,260.98 97.25,260.71 97.98,260.37 98.71,259.97 99.43,259.48 100.16,258.91 100.89,258.25 101.62,257.50 102.35,256.65 103.07,255.71 103.80,254.68 104.53,253.59 105.26,252.44 105.99,251.26 106.71,250.07 107.44,248.90 108.17,247.78 108.90,246.75 109.62,245.83 110.35,245.06 111.08,244.45 111.81,244.04 112.54,243.83 113.26,243.83 113.99,244.04 114.72,244.45 115.45,245.06 116.18,245.83 116.90,246.75 117.63,247.78 118.36,248.90 119.09,250.07 119.81,251.26 120.54,252.44 121.27,253.59 122.00,254.68 122.73,255.71 123.45,256.65 124.18,257.50 124.91,258.25 125.64,258.91 126.37,259.48 127.09,259.97 127.82,260.37 128.55,260.71 129.28,260.98 130.00,261.20 130.73,261.37 131.46,261.51 132.19,261.61 132.92,261.69 133.64,261.75 134.37,261.79"/>
<line x1="22.50" y1="261.90" x2="156.50" y2="261.90" stroke="#a030e0" stroke-width="1.2" />
<polyline fill="none" stroke="#8a1414" stroke-width="1.15" stroke-linejoin="round"  points="22.50,261.85 23.17,261.88 23.85,262.07 24.52,261.69 25.19,261.64 25.87,261.72 26.54,261.75 27.21,261.65 27.89,261.72 28.56,261.68 29.23,261.50 29.91,261.63 30.58,261.42 31.25,261.59 31.93,261.49 32.60,261.63 33.27,261.42 33.95,261.24 34.62,261.21 35.29,261.10 35.97,260.92 36.64,260.74 37.31,260.89 37.99,260.82 38.66,260.47 39.33,260.34 40.01,260.14 40.68,260.11 41.35,259.91 42.03,259.45 42.70,259.25 43.37,258.96 44.05,258.77 44.72,258.55 45.39,258.30 46.07,257.85 46.74,257.47 47.41,257.33 48.09,257.02 48.76,256.57 49.43,256.29 50.11,255.95 50.78,255.64 51.45,255.16 52.13,254.82 52.80,254.38 53.47,253.82 54.15,253.63 54.82,253.12 55.49,252.81 56.17,252.05 56.84,251.66 57.52,251.33 58.19,250.54 58.86,250.27 59.54,249.72 60.21,249.21 60.88,248.72 61.56,247.90 62.23,247.73 62.90,247.21 63.58,246.85 64.25,246.40 64.92,245.70 65.60,245.27 66.27,244.18 66.94,244.14 67.62,243.68 68.29,243.07 68.96,242.36 69.64,241.63 70.31,240.95 70.98,240.31 71.66,239.63 72.33,238.86 73.00,237.93 73.68,236.90 74.35,236.76 75.02,235.51 75.70,234.48 76.37,234.72 77.04,234.06 77.72,233.34 78.39,232.98 79.06,232.39 79.74,231.68 80.41,231.56 81.08,231.02 81.76,231.04 82.43,231.00 83.10,231.36 83.78,231.79 84.45,231.73 85.12,232.35 85.80,232.19 86.47,232.84 87.14,233.59 87.82,234.07 88.49,234.44 89.16,234.82 89.84,234.61 90.51,235.19 91.18,235.11 91.86,235.95 92.53,236.36 93.20,236.56 93.88,236.74 94.55,237.29 95.22,237.58 95.90,237.76 96.57,237.86 97.24,238.23 97.92,238.47 98.59,238.75 99.26,239.07 99.94,239.21 100.61,239.22 101.28,239.75 101.96,240.18 102.63,240.33 103.30,240.72 103.98,240.77 104.65,241.26 105.32,241.10 106.00,240.95 106.67,240.83 107.34,240.49 108.02,239.91 108.69,239.55 109.36,238.87 110.04,238.08 110.71,237.20 111.38,235.97 112.06,235.02 112.73,233.61 113.40,231.83 114.08,230.61 114.75,228.47 115.42,226.23 116.10,224.26 116.77,222.14 117.44,219.95 118.12,217.68 118.79,216.05 119.46,213.99 120.14,212.92 120.81,212.16 121.48,211.21 122.16,211.43 122.83,211.68 123.51,211.80 124.18,212.20 124.85,214.64 125.53,216.94 126.20,219.06 126.87,223.06 127.55,226.91 128.22,230.35 128.89,234.40 129.57,238.40 130.24,241.58 130.91,244.56 131.59,247.29 132.26,249.13 132.93,250.72 133.61,252.67 134.28,253.68 134.95,254.91 135.63,256.02 136.30,256.74 136.97,257.44 137.65,257.97 138.32,258.64 138.99,259.28 139.67,259.35 140.34,259.63 141.01,260.08 141.69,260.23 142.36,260.57 143.03,260.77 143.71,261.01 144.38,261.14 145.05,261.28 145.73,261.47 146.40,261.33 147.07,261.49 147.75,261.58 148.42,261.47 149.09,261.54 149.77,261.65 150.44,261.67 151.11,261.87 151.79,261.80 152.46,262.11 153.13,261.81 153.81,261.83 154.48,262.10 155.15,261.83 155.83,262.12 156.50,261.59"/>
<text x="23.30" y="213.20" font-size="9.4" fill="#111" text-anchor="start" textLength="26.6" lengthAdjust="spacingAndGlyphs" stroke="#111" stroke-width="0.15">450 °C</text>
<polyline fill="none" stroke="#10a010" stroke-width="1.1" stroke-linejoin="round"  points="24.99,323.25 25.94,323.22 26.90,323.19 27.85,323.16 28.80,323.10 29.76,323.04 30.71,322.95 31.66,322.84 32.61,322.71 33.57,322.54 34.52,322.34 35.47,322.10 36.43,321.81 37.38,321.49 38.33,321.11 39.28,320.69 40.24,320.22 41.19,319.71 42.14,319.17 43.10,318.60 44.05,318.01 45.00,317.42 45.95,316.84 46.91,316.28 47.86,315.77 48.81,315.31 49.77,314.93 50.72,314.62 51.67,314.42 52.62,314.31 53.58,314.31 54.53,314.42 55.48,314.62 56.43,314.93 57.39,315.31 58.34,315.77 59.29,316.28 60.25,316.84 61.20,317.42 62.15,318.01 63.10,318.60 64.06,319.17 65.01,319.71 65.96,320.22 66.92,320.69 67.87,321.11 68.82,321.49 69.77,321.81 70.73,322.10 71.68,322.34 72.63,322.54 73.59,322.71 74.54,322.84 75.49,322.95 76.44,323.04 77.40,323.10 78.35,323.16 79.30,323.19 80.26,323.22 81.21,323.25"/>
<polyline fill="none" stroke="#a020a0" stroke-width="1.1" stroke-linejoin="round"  points="46.81,323.22 47.51,323.19 48.21,323.15 48.91,323.09 49.61,323.02 50.32,322.93 51.02,322.80 51.72,322.65 52.42,322.46 53.12,322.22 53.82,321.93 54.52,321.59 55.23,321.19 55.93,320.72 56.63,320.19 57.33,319.58 58.03,318.92 58.73,318.20 59.43,317.42 60.14,316.61 60.84,315.77 61.54,314.93 62.24,314.11 62.94,313.32 63.64,312.59 64.34,311.94 65.05,311.39 65.75,310.96 66.45,310.67 67.15,310.52 67.85,310.52 68.55,310.67 69.25,310.96 69.95,311.39 70.66,311.94 71.36,312.59 72.06,313.32 72.76,314.11 73.46,314.93 74.16,315.77 74.86,316.61 75.57,317.42 76.27,318.20 76.97,318.92 77.67,319.58 78.37,320.19 79.07,320.72 79.77,321.19 80.48,321.59 81.18,321.93 81.88,322.22 82.58,322.46 83.28,322.65 83.98,322.80 84.68,322.93 85.39,323.02 86.09,323.09 86.79,323.15 87.49,323.19 88.19,323.22"/>
<polyline fill="none" stroke="#2828ff" stroke-width="1.1" stroke-linejoin="round"  points="60.23,323.13 60.96,323.06 61.68,322.97 62.41,322.85 63.14,322.68 63.87,322.47 64.60,322.20 65.32,321.86 66.05,321.43 66.78,320.91 67.51,320.28 68.23,319.52 68.96,318.63 69.69,317.60 70.42,316.41 71.15,315.09 71.87,313.61 72.60,312.01 73.33,310.30 74.06,308.51 74.79,306.66 75.51,304.80 76.24,302.97 76.97,301.23 77.70,299.61 78.42,298.18 79.15,296.97 79.88,296.02 80.61,295.37 81.34,295.04 82.06,295.04 82.79,295.37 83.52,296.02 84.25,296.97 84.98,298.18 85.70,299.61 86.43,301.23 87.16,302.97 87.89,304.80 88.61,306.66 89.34,308.51 90.07,310.30 90.80,312.01 91.53,313.61 92.25,315.09 92.98,316.41 93.71,317.60 94.44,318.63 95.17,319.52 95.89,320.28 96.62,320.91 97.35,321.43 98.08,321.86 98.80,322.20 99.53,322.47 100.26,322.68 100.99,322.85 101.72,322.97 102.44,323.06 103.17,323.13"/>
<polyline fill="none" stroke="#202098" stroke-width="1.1" stroke-linejoin="round"  points="74.36,323.19 75.12,323.14 75.89,323.08 76.66,322.99 77.43,322.89 78.19,322.74 78.96,322.56 79.73,322.33 80.50,322.05 81.26,321.70 82.03,321.27 82.80,320.76 83.57,320.16 84.34,319.47 85.10,318.68 85.87,317.79 86.64,316.80 87.41,315.72 88.17,314.57 88.94,313.37 89.71,312.13 90.48,310.88 91.24,309.65 92.01,308.48 92.78,307.40 93.55,306.43 94.31,305.62 95.08,304.99 95.85,304.55 96.62,304.33 97.38,304.33 98.15,304.55 98.92,304.99 99.69,305.62 100.45,306.43 101.22,307.40 101.99,308.48 102.76,309.65 103.52,310.88 104.29,312.13 105.06,313.37 105.83,314.57 106.59,315.72 107.36,316.80 108.13,317.79 108.90,318.68 109.66,319.47 110.43,320.16 111.20,320.76 111.97,321.27 112.74,321.70 113.50,322.05 114.27,322.33 115.04,322.56 115.81,322.74 116.57,322.89 117.34,322.99 118.11,323.08 118.88,323.14 119.64,323.19"/>
<polyline fill="none" stroke="#ff2020" stroke-width="1.1" stroke-linejoin="round"  points="106.30,323.03 106.86,322.91 107.41,322.76 107.97,322.56 108.53,322.30 109.08,321.96 109.64,321.52 110.19,320.97 110.75,320.28 111.31,319.44 111.86,318.41 112.42,317.19 112.97,315.74 113.53,314.07 114.08,312.16 114.64,310.01 115.20,307.63 115.75,305.03 116.31,302.26 116.86,299.36 117.42,296.37 117.98,293.36 118.53,290.40 119.09,287.58 119.64,284.97 120.20,282.64 120.75,280.68 121.31,279.15 121.87,278.10 122.42,277.57 122.98,277.57 123.53,278.10 124.09,279.15 124.65,280.68 125.20,282.64 125.76,284.97 126.31,287.58 126.87,290.40 127.42,293.36 127.98,296.37 128.54,299.36 129.09,302.26 129.65,305.03 130.20,307.63 130.76,310.01 131.32,312.16 131.87,314.07 132.43,315.74 132.98,317.19 133.54,318.41 134.09,319.44 134.65,320.28 135.21,320.97 135.76,321.52 136.32,321.96 136.87,322.30 137.43,322.56 137.99,322.76 138.54,322.91 139.10,323.03"/>
<polyline fill="none" stroke="#ff30ff" stroke-width="1.1" stroke-linejoin="round"  points="117.83,323.28 118.43,323.28 119.02,323.27 119.62,323.26 120.21,323.24 120.81,323.22 121.41,323.20 122.00,323.17 122.60,323.13 123.19,323.08 123.79,323.02 124.38,322.95 124.98,322.87 125.57,322.78 126.17,322.67 126.76,322.55 127.36,322.41 127.96,322.26 128.55,322.11 129.15,321.94 129.74,321.77 130.34,321.60 130.93,321.43 131.53,321.27 132.12,321.12 132.72,320.99 133.32,320.88 133.91,320.79 134.51,320.73 135.10,320.70 135.70,320.70 136.29,320.73 136.89,320.79 137.48,320.88 138.08,320.99 138.68,321.12 139.27,321.27 139.87,321.43 140.46,321.60 141.06,321.77 141.65,321.94 142.25,322.11 142.84,322.26 143.44,322.41 144.04,322.55 144.63,322.67 145.23,322.78 145.82,322.87 146.42,322.95 147.01,323.02 147.61,323.08 148.20,323.13 148.80,323.17 149.39,323.20 149.99,323.22 150.59,323.24 151.18,323.26 151.78,323.27 152.37,323.28 152.97,323.28"/>
<polyline fill="none" stroke="#a82cf6" stroke-width="1.1" stroke-linejoin="round"  points="90.73,323.20 91.46,323.17 92.18,323.11 92.91,323.04 93.64,322.95 94.37,322.83 95.10,322.68 95.82,322.49 96.55,322.25 97.28,321.95 98.01,321.59 98.73,321.16 99.46,320.66 100.19,320.08 100.92,319.41 101.65,318.66 102.37,317.82 103.10,316.92 103.83,315.95 104.56,314.94 105.29,313.89 106.01,312.84 106.74,311.81 107.47,310.82 108.20,309.91 108.92,309.10 109.65,308.41 110.38,307.88 111.11,307.51 111.84,307.32 112.56,307.32 113.29,307.51 114.02,307.88 114.75,308.41 115.48,309.10 116.20,309.91 116.93,310.82 117.66,311.81 118.39,312.84 119.11,313.89 119.84,314.94 120.57,315.95 121.30,316.92 122.03,317.82 122.75,318.66 123.48,319.41 124.21,320.08 124.94,320.66 125.67,321.16 126.39,321.59 127.12,321.95 127.85,322.25 128.58,322.49 129.30,322.68 130.03,322.83 130.76,322.95 131.49,323.04 132.22,323.11 132.94,323.17 133.67,323.20"/>
<line x1="22.50" y1="323.30" x2="156.50" y2="323.30" stroke="#a030e0" stroke-width="1.2" />
<polyline fill="none" stroke="#8a1414" stroke-width="1.15" stroke-linejoin="round"  points="22.50,323.23 23.17,323.43 23.85,323.43 24.52,323.29 25.19,323.15 25.87,323.16 26.54,323.20 27.21,323.11 27.89,323.12 28.56,322.89 29.23,322.98 29.91,322.96 30.58,323.07 31.25,322.75 31.93,322.65 32.60,322.39 33.27,322.22 33.95,322.00 34.62,322.15 35.29,322.17 35.97,321.79 36.64,321.38 37.31,321.50 37.99,321.28 38.66,321.07 39.33,321.10 40.01,320.82 40.68,320.61 41.35,320.10 42.03,319.95 42.70,319.50 43.37,319.46 44.05,318.90 44.72,318.87 45.39,318.44 46.07,318.13 46.74,317.62 47.41,317.57 48.09,316.94 48.76,316.70 49.43,316.41 50.11,316.46 50.78,315.87 51.45,315.43 52.13,315.24 52.80,315.14 53.47,314.44 54.15,313.96 54.82,313.59 55.49,313.38 56.17,313.26 56.84,312.64 57.52,312.26 58.19,311.78 58.86,311.37 59.54,311.30 60.21,310.79 60.88,310.37 61.56,309.64 62.23,309.46 62.90,308.90 63.58,308.54 64.25,307.86 64.92,307.00 65.60,306.40 66.27,305.68 66.94,304.86 67.62,303.95 68.29,303.48 68.96,302.94 69.64,301.69 70.31,301.19 70.98,299.95 71.66,299.04 72.33,298.18 73.00,297.20 73.68,296.57 74.35,295.77 75.02,294.21 75.70,294.26 76.37,293.55 77.04,293.30 77.72,292.19 78.39,291.95 79.06,291.80 79.74,291.40 80.41,291.33 81.08,290.70 81.76,290.74 82.43,291.16 83.10,290.92 83.78,291.62 84.45,292.07 85.12,292.30 85.80,292.32 86.47,292.90 87.14,293.40 87.82,294.03 88.49,294.51 89.16,294.92 89.84,295.24 90.51,295.81 91.18,296.57 91.86,297.14 92.53,297.77 93.20,298.19 93.88,298.84 94.55,299.19 95.22,299.75 95.90,300.10 96.57,300.58 97.24,300.62 97.92,300.96 98.59,301.22 99.26,301.72 99.94,302.09 100.61,302.41 101.28,302.46 101.96,302.62 102.63,302.99 103.30,303.05 103.98,303.06 104.65,303.54 105.32,303.47 106.00,303.38 106.67,303.68 107.34,303.58 108.02,303.69 108.69,303.47 109.36,303.38 110.04,303.10 110.71,302.90 111.38,302.67 112.06,302.18 112.73,301.59 113.40,301.03 114.08,299.49 114.75,298.30 115.42,296.59 116.10,294.22 116.77,291.89 117.44,288.82 118.12,286.63 118.79,283.41 119.46,281.18 120.14,278.42 120.81,276.47 121.48,274.38 122.16,273.49 122.83,272.51 123.51,273.21 124.18,273.80 124.85,274.54 125.53,275.99 126.20,277.51 126.87,279.63 127.55,282.62 128.22,285.75 128.89,289.83 129.57,293.50 130.24,297.28 130.91,300.84 131.59,304.21 132.26,307.26 132.93,310.03 133.61,312.36 134.28,313.82 134.95,315.56 135.63,317.22 136.30,317.80 136.97,318.55 137.65,319.25 138.32,319.70 138.99,320.15 139.67,320.53 140.34,320.74 141.01,321.28 141.69,321.46 142.36,321.83 143.03,321.97 143.71,322.29 144.38,322.37 145.05,322.83 145.73,322.76 146.40,322.87 147.07,322.81 147.75,322.73 148.42,322.91 149.09,323.05 149.77,323.06 150.44,323.04 151.11,323.06 151.79,323.05 152.46,323.17 153.13,323.30 153.81,323.33 154.48,323.35 155.15,323.28 155.83,323.32 156.50,323.31"/>
<text x="23.60" y="275.60" font-size="9.4" fill="#111" text-anchor="start" textLength="26.6" lengthAdjust="spacingAndGlyphs" stroke="#111" stroke-width="0.15">600 °C</text>
<line x1="22.50" y1="31.00" x2="22.50" y2="328.50" stroke="#555" stroke-width="1.0" />
<line x1="156.50" y1="22.00" x2="156.50" y2="328.50" stroke="#666" stroke-width="1.0" />
<line x1="22.00" y1="328.50" x2="157.00" y2="328.50" stroke="#555" stroke-width="1.0" />
<line x1="22.50" y1="328.50" x2="22.50" y2="332.50" stroke="#555" stroke-width="1.0" />
<line x1="39.25" y1="328.50" x2="39.25" y2="330.50" stroke="#555" stroke-width="1.0" />
<line x1="56.00" y1="328.50" x2="56.00" y2="332.50" stroke="#555" stroke-width="1.0" />
<line x1="72.75" y1="328.50" x2="72.75" y2="330.50" stroke="#555" stroke-width="1.0" />
<line x1="89.50" y1="328.50" x2="89.50" y2="332.50" stroke="#555" stroke-width="1.0" />
<line x1="106.25" y1="328.50" x2="106.25" y2="330.50" stroke="#555" stroke-width="1.0" />
<line x1="123.00" y1="328.50" x2="123.00" y2="332.50" stroke="#555" stroke-width="1.0" />
<line x1="139.75" y1="328.50" x2="139.75" y2="330.50" stroke="#555" stroke-width="1.0" />
<line x1="156.50" y1="328.50" x2="156.50" y2="332.50" stroke="#555" stroke-width="1.0" />
<text x="22.50" y="340.20" font-size="7.2" fill="#111" text-anchor="middle"  stroke="#111" stroke-width="0.25">1000</text>
<text x="56.00" y="340.20" font-size="7.2" fill="#111" text-anchor="middle"  stroke="#111" stroke-width="0.25">1200</text>
<text x="89.50" y="340.20" font-size="7.2" fill="#111" text-anchor="middle"  stroke="#111" stroke-width="0.25">1400</text>
<text x="123.00" y="340.20" font-size="7.2" fill="#111" text-anchor="middle"  stroke="#111" stroke-width="0.25">1600</text>
<text x="156.50" y="340.20" font-size="7.2" fill="#111" text-anchor="middle"  stroke="#111" stroke-width="0.25">1800</text>
<text x="56.10" y="359.60" font-size="9.2" fill="#1a1a1a" text-anchor="start" textLength="62.3" lengthAdjust="spacingAndGlyphs" stroke="#1a1a1a" stroke-width="0.15">Raman shift, cm</text>
<text x="118.60" y="355.60" font-size="5.5" fill="#1a1a1a" text-anchor="start"  stroke="#1a1a1a" stroke-width="0.15">-1</text>
<text transform="translate(13.6,173.8) rotate(-90)" font-size="9.6" fill="#1a1a1a" text-anchor="middle">Intensity, a.u.</text>
<rect x="5.5" y="6.5" width="23" height="24.5" fill="#fff" stroke="#444" stroke-width="1"/>
<text x="17.00" y="24.75" font-size="15" fill="#111" text-anchor="middle" >(a)</text>
<text x="29.90" y="52.80" font-size="6" fill="#222" text-anchor="start" font-weight="bold">D<tspan dy="1.6" font-size="4">1</tspan><tspan dy="-3.6" font-size="5">'</tspan></text>
<line x1="37.50" y1="53.80" x2="46.50" y2="72.70" stroke="#aaa" stroke-width="0.7" />
<polygon fill="#111" points="46.50,72.70 43.33,70.00 46.40,68.54"/>
<text x="49.80" y="49.10" font-size="6" fill="#222" text-anchor="start" font-weight="bold">D<tspan dy="1.6" font-size="4">1</tspan><tspan dy="-3.6" font-size="5">''</tspan></text>
<line x1="56.00" y1="50.50" x2="63.80" y2="64.90" stroke="#aaa" stroke-width="0.7" />
<polygon fill="#111" points="63.80,64.90 60.50,62.37 63.48,60.75"/>
<text x="64.20" y="42.20" font-size="6" fill="#222" text-anchor="start" font-weight="bold">D<tspan dy="1.8" font-size="4">2</tspan><tspan dy="-1.8" font-size="6"> (D)</tspan></text>
<line x1="70.50" y1="43.80" x2="80.20" y2="60.50" stroke="#aaa" stroke-width="0.7" />
<polygon fill="#111" points="80.20,60.50 76.82,58.07 79.76,56.36"/>
<text x="86.70" y="35.00" font-size="6" fill="#222" text-anchor="start" font-weight="bold">D<tspan dy="1.6" font-size="4">3</tspan><tspan dy="-3.6" font-size="5">'</tspan></text>
<line x1="90.50" y1="37.00" x2="96.20" y2="49.60" stroke="#aaa" stroke-width="0.7" />
<polygon fill="#111" points="96.20,49.60 93.08,46.84 96.18,45.44"/>
<text x="98.40" y="21.00" font-size="6" fill="#222" text-anchor="start" font-weight="bold">D<tspan dy="1.6" font-size="4">3</tspan><tspan dy="-3.6" font-size="5">''</tspan></text>
<line x1="102.00" y1="23.50" x2="109.20" y2="41.50" stroke="#aaa" stroke-width="0.7" />
<polygon fill="#111" points="109.20,41.50 106.21,38.60 109.37,37.34"/>
<text x="130.70" y="33.30" font-size="7.0" fill="#333" text-anchor="start"  stroke="#333" stroke-width="0.1">G</text>
<line x1="132.00" y1="35.40" x2="123.80" y2="49.20" stroke="#aaa" stroke-width="0.7" />
<polygon fill="#111" points="123.80,49.20 124.28,45.06 127.20,46.80"/>
<text x="139.60" y="57.80" font-size="6" fill="#222" text-anchor="start" font-weight="bold">D<tspan dy="1.6" font-size="4">4</tspan><tspan dy="-3.6" font-size="5"></tspan></text>
<line x1="142.00" y1="60.00" x2="134.80" y2="70.80" stroke="#aaa" stroke-width="0.7" />
<polygon fill="#111" points="134.80,70.80 135.49,66.70 138.32,68.58"/>
<text x="32.10" y="293.30" font-size="6" fill="#222" text-anchor="start" font-weight="bold">D<tspan dy="1.6" font-size="4">1</tspan><tspan dy="-3.6" font-size="5">'</tspan></text>
<line x1="40.00" y1="296.60" x2="49.00" y2="313.80" stroke="#aaa" stroke-width="0.7" />
<polygon fill="#111" points="49.00,313.80 45.73,311.22 48.74,309.64"/>
<text x="50.60" y="293.30" font-size="6" fill="#222" text-anchor="start" font-weight="bold">D<tspan dy="1.6" font-size="4">1</tspan><tspan dy="-3.6" font-size="5">''</tspan></text>
<line x1="57.20" y1="296.60" x2="64.20" y2="309.70" stroke="#aaa" stroke-width="0.7" />
<polygon fill="#111" points="64.20,309.70 60.91,307.15 63.91,305.55"/>
<text x="62.10" y="276.40" font-size="6" fill="#222" text-anchor="start" font-weight="bold">D<tspan dy="1.8" font-size="4">2</tspan><tspan dy="-1.8" font-size="6"> (D)</tspan></text>
<line x1="70.70" y1="280.80" x2="78.40" y2="295.00" stroke="#aaa" stroke-width="0.7" />
<polygon fill="#111" points="78.40,295.00 75.09,292.47 78.08,290.85"/>
<text x="85.00" y="285.50" font-size="6" fill="#222" text-anchor="start" font-weight="bold">D<tspan dy="1.6" font-size="4">3</tspan><tspan dy="-3.6" font-size="5">'</tspan></text>
<line x1="90.50" y1="287.60" x2="96.20" y2="301.50" stroke="#aaa" stroke-width="0.7" />
<polygon fill="#111" points="96.20,301.50 93.19,298.63 96.33,297.34"/>
<text x="100.30" y="285.40" font-size="6" fill="#222" text-anchor="start" font-weight="bold">D<tspan dy="1.6" font-size="4">3</tspan><tspan dy="-3.6" font-size="5">''</tspan></text>
<line x1="104.40" y1="286.80" x2="110.60" y2="304.80" stroke="#aaa" stroke-width="0.7" />
<polygon fill="#111" points="110.60,304.80 107.76,301.76 110.97,300.65"/>
<text x="135.40" y="276.60" font-size="7.0" fill="#333" text-anchor="start"  stroke="#333" stroke-width="0.1">G</text>
<line x1="134.60" y1="275.90" x2="125.30" y2="279.40" stroke="#aaa" stroke-width="0.7" />
<polygon fill="#111" points="125.30,279.40 128.26,276.47 129.46,279.65"/>
<text x="141.60" y="304.10" font-size="6" fill="#222" text-anchor="start" font-weight="bold">D<tspan dy="1.6" font-size="4">4</tspan><tspan dy="-3.6" font-size="5"></tspan></text>
<line x1="143.60" y1="306.40" x2="138.70" y2="319.00" stroke="#aaa" stroke-width="0.7" />
<polygon fill="#111" points="138.70,319.00 138.49,314.84 141.66,316.07"/>
<line x1="195.00" y1="35.50" x2="195.00" y2="328.50" stroke="#c2c2c2" stroke-width="1.5" />
<line x1="330.70" y1="35.50" x2="330.70" y2="328.50" stroke="#c2c2c2" stroke-width="1.5" />
<line x1="194.25" y1="328.50" x2="331.45" y2="328.50" stroke="#c2c2c2" stroke-width="1.5" />
<line x1="195.00" y1="328.30" x2="197.50" y2="328.30" stroke="#888" stroke-width="0.8" />
<line x1="330.70" y1="328.30" x2="328.20" y2="328.30" stroke="#888" stroke-width="0.8" />
<text x="192.90" y="331.00" font-size="7.6" fill="#111" text-anchor="end"  stroke="#111" stroke-width="0.25">0</text>
<line x1="195.00" y1="277.10" x2="197.50" y2="277.10" stroke="#888" stroke-width="0.8" />
<line x1="330.70" y1="277.10" x2="328.20" y2="277.10" stroke="#888" stroke-width="0.8" />
<text x="192.90" y="279.80" font-size="7.6" fill="#111" text-anchor="end"  stroke="#111" stroke-width="0.25">5</text>
<line x1="195.00" y1="225.90" x2="197.50" y2="225.90" stroke="#888" stroke-width="0.8" />
<line x1="330.70" y1="225.90" x2="328.20" y2="225.90" stroke="#888" stroke-width="0.8" />
<text x="192.90" y="228.60" font-size="7.6" fill="#111" text-anchor="end"  stroke="#111" stroke-width="0.25">10</text>
<line x1="195.00" y1="174.70" x2="197.50" y2="174.70" stroke="#888" stroke-width="0.8" />
<line x1="330.70" y1="174.70" x2="328.20" y2="174.70" stroke="#888" stroke-width="0.8" />
<text x="192.90" y="177.40" font-size="7.6" fill="#111" text-anchor="end"  stroke="#111" stroke-width="0.25">15</text>
<line x1="195.00" y1="123.50" x2="197.50" y2="123.50" stroke="#888" stroke-width="0.8" />
<line x1="330.70" y1="123.50" x2="328.20" y2="123.50" stroke="#888" stroke-width="0.8" />
<text x="192.90" y="126.20" font-size="7.6" fill="#111" text-anchor="end"  stroke="#111" stroke-width="0.25">20</text>
<line x1="195.00" y1="72.30" x2="197.50" y2="72.30" stroke="#888" stroke-width="0.8" />
<line x1="330.70" y1="72.30" x2="328.20" y2="72.30" stroke="#888" stroke-width="0.8" />
<text x="192.90" y="75.00" font-size="7.6" fill="#111" text-anchor="end"  stroke="#111" stroke-width="0.25">25</text>
<line x1="195.00" y1="302.70" x2="196.50" y2="302.70" stroke="#999" stroke-width="0.7" />
<line x1="330.70" y1="302.70" x2="329.20" y2="302.70" stroke="#999" stroke-width="0.7" />
<line x1="195.00" y1="251.50" x2="196.50" y2="251.50" stroke="#999" stroke-width="0.7" />
<line x1="330.70" y1="251.50" x2="329.20" y2="251.50" stroke="#999" stroke-width="0.7" />
<line x1="195.00" y1="200.30" x2="196.50" y2="200.30" stroke="#999" stroke-width="0.7" />
<line x1="330.70" y1="200.30" x2="329.20" y2="200.30" stroke="#999" stroke-width="0.7" />
<line x1="195.00" y1="149.10" x2="196.50" y2="149.10" stroke="#999" stroke-width="0.7" />
<line x1="330.70" y1="149.10" x2="329.20" y2="149.10" stroke="#999" stroke-width="0.7" />
<line x1="195.00" y1="97.90" x2="196.50" y2="97.90" stroke="#999" stroke-width="0.7" />
<line x1="330.70" y1="97.90" x2="329.20" y2="97.90" stroke="#999" stroke-width="0.7" />
<line x1="213.60" y1="328.50" x2="213.60" y2="330.00" stroke="#999" stroke-width="0.8" />
<line x1="236.70" y1="328.50" x2="236.70" y2="331.00" stroke="#999" stroke-width="0.8" />
<line x1="259.80" y1="328.50" x2="259.80" y2="330.00" stroke="#999" stroke-width="0.8" />
<line x1="282.90" y1="328.50" x2="282.90" y2="331.00" stroke="#999" stroke-width="0.8" />
<line x1="306.00" y1="328.50" x2="306.00" y2="330.00" stroke="#999" stroke-width="0.8" />
<line x1="329.10" y1="328.50" x2="329.10" y2="331.00" stroke="#999" stroke-width="0.8" />
<text x="236.70" y="339.80" font-size="7.6" fill="#111" text-anchor="middle"  stroke="#111" stroke-width="0.25">200</text>
<text x="282.90" y="339.80" font-size="7.6" fill="#111" text-anchor="middle"  stroke="#111" stroke-width="0.25">400</text>
<text x="329.10" y="339.80" font-size="7.6" fill="#111" text-anchor="middle"  stroke="#111" stroke-width="0.25">600</text>
<text x="234.50" y="359.50" font-size="10" fill="#1a1a1a" text-anchor="start" textLength="72.3" lengthAdjust="spacingAndGlyphs" stroke="#1a1a1a" stroke-width="0.15">Temperature, °C</text>
<text transform="translate(178.8,168.5) rotate(-90)" font-size="12.7" fill="#1a1a1a" text-anchor="middle">A<tspan dy="2.5" font-size="6">i</tspan><tspan dy="-2.5"> /A</tspan><tspan dy="2.5" font-size="6">Σ</tspan><tspan dy="-2.5"> × 100%</tspan></text>
<rect x="161.9" y="6.4" width="23.1" height="24.1" fill="#fff" stroke="#444" stroke-width="1"/>
<text x="173.45" y="24.45" font-size="15" fill="#111" text-anchor="middle" >(b)</text>
<polyline fill="none" stroke="#000000" stroke-width="2.7" stroke-linecap="round" stroke-dasharray="0 4.3" points="197.43,134.15 198.82,134.22 200.20,134.25 201.56,134.25 202.91,134.21 204.25,134.15 205.58,134.05 206.89,133.91 208.19,133.74 209.47,133.54 210.75,133.31 212.00,133.04 213.25,132.74 214.48,132.41 215.70,132.04 216.91,131.64 218.10,131.21 219.28,130.74 220.45,130.24 221.60,129.70 222.74,129.14 223.87,128.54 224.98,127.90 226.08,127.24 227.17,126.54 228.24,125.80 229.30,125.03 230.35,124.23 231.38,123.40 232.41,122.53 233.41,121.63 234.41,120.70 235.39,119.73 236.36,118.73 237.31,117.70 238.25,116.63 239.18,115.53 240.10,114.40 241.00,113.23 241.89,112.03 242.77,110.80 243.64,109.58 244.51,108.37 245.39,107.18 246.26,106.01 247.13,104.86 248.01,103.73 248.88,102.62 249.75,101.52 250.63,100.44 251.50,99.38 252.37,98.34 253.25,97.32 254.12,96.31 255.00,95.32 255.87,94.35 256.74,93.40 257.62,92.47 258.49,91.56 259.36,90.66 260.24,89.78 261.11,88.92 261.98,88.08 262.86,87.26 263.73,86.45 264.60,85.67 265.48,84.90 266.35,84.15 267.22,83.42 268.10,82.70 268.97,82.01 269.85,81.33 270.72,80.67 271.59,80.03 272.47,79.41 273.34,78.80 274.21,78.22 275.09,77.65 275.96,77.10 276.83,76.57 277.71,76.05 278.61,75.54 279.53,75.04 280.48,74.54 281.44,74.04 282.43,73.55 283.44,73.07 284.47,72.59 285.52,72.12 286.60,71.65 287.70,71.18 288.81,70.73 289.96,70.27 291.12,69.83 292.31,69.38 293.51,68.95 294.74,68.51 295.99,68.09 297.27,67.67 298.56,67.25 299.88,66.84 301.22,66.43 302.58,66.03 303.97,65.63 305.37,65.24 306.80,64.86 308.25,64.48 309.72,64.10 311.21,63.73 312.73,63.37 314.27,63.01 315.83,62.66 317.41,62.31 319.01,61.96 320.64,61.63 322.29,61.29 323.96,60.96 325.65,60.64 327.36,60.32 329.10,60.01"/>
<polyline fill="none" stroke="#ff1a1a" stroke-width="2.7" stroke-linecap="round" stroke-dasharray="0 4.3" points="197.43,175.72 198.82,176.83 200.20,177.88 201.56,178.88 202.91,179.82 204.25,180.70 205.58,181.53 206.89,182.30 208.19,183.02 209.47,183.68 210.75,184.28 212.00,184.83 213.25,185.32 214.48,185.76 215.70,186.14 216.91,186.47 218.10,186.73 219.28,186.95 220.45,187.10 221.60,187.20 222.74,187.25 223.87,187.24 224.98,187.17 226.08,187.05 227.17,186.87 228.24,186.63 229.30,186.34 230.35,185.99 231.38,185.59 232.41,185.13 233.41,184.61 234.41,184.04 235.39,183.42 236.36,182.73 237.31,181.99 238.25,181.20 239.18,180.35 240.10,179.44 241.00,178.48 241.89,177.46 242.77,176.39 243.64,175.30 244.51,174.22 245.39,173.14 246.26,172.06 247.13,170.97 248.01,169.89 248.88,168.81 249.75,167.74 250.63,166.66 251.50,165.58 252.37,164.50 253.25,163.43 254.12,162.35 255.00,161.27 255.87,160.20 256.74,159.13 257.62,158.05 258.49,156.98 259.36,155.91 260.24,154.84 261.11,153.77 261.98,152.70 262.86,151.63 263.73,150.56 264.60,149.49 265.48,148.42 266.35,147.36 267.22,146.29 268.10,145.22 268.97,144.16 269.85,143.09 270.72,142.03 271.59,140.97 272.47,139.91 273.34,138.84 274.21,137.78 275.09,136.72 275.96,135.66 276.83,134.60 277.71,133.55 278.61,132.49 279.53,131.45 280.48,130.40 281.44,129.36 282.43,128.33 283.44,127.30 284.47,126.27 285.52,125.25 286.60,124.23 287.70,123.22 288.81,122.21 289.96,121.21 291.12,120.21 292.31,119.22 293.51,118.23 294.74,117.24 295.99,116.26 297.27,115.29 298.56,114.32 299.88,113.35 301.22,112.39 302.58,111.43 303.97,110.48 305.37,109.53 306.80,108.59 308.25,107.65 309.72,106.71 311.21,105.78 312.73,104.86 314.27,103.94 315.83,103.02 317.41,102.11 319.01,101.20 320.64,100.30 322.29,99.40 323.96,98.51 325.65,97.62 327.36,96.73 329.10,95.85"/>
<polyline fill="none" stroke="#108a10" stroke-width="2.7" stroke-linecap="round" stroke-dasharray="0 4.3" points="197.43,303.21 198.82,303.85 200.20,304.46 201.56,305.05 202.91,305.63 204.25,306.18 205.58,306.71 206.89,307.22 208.19,307.71 209.47,308.18 210.75,308.62 212.00,309.05 213.25,309.46 214.48,309.84 215.70,310.21 216.91,310.55 218.10,310.87 219.28,311.17 220.45,311.46 221.60,311.72 222.74,311.95 223.87,312.17 224.98,312.37 226.08,312.55 227.17,312.70 228.24,312.84 229.30,312.95 230.35,313.05 231.38,313.12 232.41,313.17 233.41,313.20 234.41,313.21 235.39,313.20 236.36,313.17 237.31,313.12 238.25,313.04 239.18,312.95 240.10,312.84 241.00,312.70 241.89,312.54 242.77,312.37 243.64,312.16 244.51,311.91 245.39,311.63 246.26,311.31 247.13,310.96 248.01,310.57 248.88,310.15 249.75,309.69 250.63,309.20 251.50,308.67 252.37,308.10 253.25,307.50 254.12,306.87 255.00,306.19 255.87,305.49 256.74,304.75 257.62,303.97 258.49,303.15 259.36,302.31 260.24,301.42 261.11,300.50 261.98,299.55 262.86,298.56 263.73,297.53 264.60,296.47 265.48,295.37 266.35,294.24 267.22,293.07 268.10,291.87 268.97,290.63 269.85,289.35 270.72,288.04 271.59,286.70 272.47,285.32 273.34,283.90 274.21,282.45 275.09,280.96 275.96,279.44 276.83,277.88 277.71,276.30 278.61,274.72 279.53,273.16 280.48,271.60 281.44,270.05 282.43,268.51 283.44,266.98 284.47,265.46 285.52,263.95 286.60,262.45 287.70,260.96 288.81,259.48 289.96,258.00 291.12,256.54 292.31,255.09 293.51,253.64 294.74,252.21 295.99,250.78 297.27,249.36 298.56,247.96 299.88,246.56 301.22,245.17 302.58,243.79 303.97,242.42 305.37,241.07 306.80,239.72 308.25,238.37 309.72,237.04 311.21,235.72 312.73,234.41 314.27,233.11 315.83,231.81 317.41,230.53 319.01,229.25 320.64,227.99 322.29,226.73 323.96,225.49 325.65,224.25 327.36,223.02 329.10,221.80"/>
<polyline fill="none" stroke="#a020f0" stroke-width="2.7" stroke-linecap="round" stroke-dasharray="0 4.3" points="197.43,300.96 198.82,301.58 200.20,302.17 201.56,302.75 202.91,303.30 204.25,303.82 205.58,304.33 206.89,304.81 208.19,305.27 209.47,305.71 210.75,306.12 212.00,306.51 213.25,306.88 214.48,307.23 215.70,307.55 216.91,307.85 218.10,308.13 219.28,308.39 220.45,308.62 221.60,308.83 222.74,309.01 223.87,309.18 224.98,309.32 226.08,309.44 227.17,309.54 228.24,309.61 229.30,309.66 230.35,309.69 231.38,309.69 232.41,309.68 233.41,309.64 234.41,309.57 235.39,309.49 236.36,309.38 237.31,309.25 238.25,309.09 239.18,308.92 240.10,308.72 241.00,308.50 241.89,308.25 242.77,307.99 243.64,307.72 244.51,307.47 245.39,307.23 246.26,307.01 247.13,306.79 248.01,306.58 248.88,306.39 249.75,306.20 250.63,306.03 251.50,305.87 252.37,305.71 253.25,305.57 254.12,305.45 255.00,305.33 255.87,305.22 256.74,305.12 257.62,305.04 258.49,304.97 259.36,304.90 260.24,304.85 261.11,304.81 261.98,304.78 262.86,304.76 263.73,304.76 264.60,304.76 265.48,304.77 266.35,304.80 267.22,304.84 268.10,304.88 268.97,304.94 269.85,305.01 270.72,305.09 271.59,305.19 272.47,305.29 273.34,305.40 274.21,305.53 275.09,305.67 275.96,305.81 276.83,305.97 277.71,306.14 278.61,306.31 279.53,306.47 280.48,306.64 281.44,306.80 282.43,306.96 283.44,307.12 284.47,307.29 285.52,307.45 286.60,307.60 287.70,307.76 288.81,307.92 289.96,308.08 291.12,308.23 292.31,308.38 293.51,308.54 294.74,308.69 295.99,308.84 297.27,308.99 298.56,309.14 299.88,309.29 301.22,309.43 302.58,309.58 303.97,309.73 305.37,309.87 306.80,310.01 308.25,310.16 309.72,310.30 311.21,310.44 312.73,310.58 314.27,310.71 315.83,310.85 317.41,310.99 319.01,311.12 320.64,311.26 322.29,311.39 323.96,311.52 325.65,311.66 327.36,311.79 329.10,311.92"/>
<polyline fill="none" stroke="#10108a" stroke-width="2.7" stroke-linecap="round" stroke-dasharray="0 4.3" points="197.43,218.73 198.82,217.97 200.20,217.22 201.56,216.50 202.91,215.79 204.25,215.10 205.58,214.44 206.89,213.79 208.19,213.16 209.47,212.55 210.75,211.96 212.00,211.39 213.25,210.84 214.48,210.31 215.70,209.80 216.91,209.31 218.10,208.84 219.28,208.39 220.45,207.95 221.60,207.54 222.74,207.15 223.87,206.77 224.98,206.42 226.08,206.08 227.17,205.77 228.24,205.47 229.30,205.20 230.35,204.94 231.38,204.70 232.41,204.48 233.41,204.28 234.41,204.11 235.39,203.95 236.36,203.81 237.31,203.69 238.25,203.58 239.18,203.50 240.10,203.44 241.00,203.40 241.89,203.38 242.77,203.37 243.64,203.38 244.51,203.38 245.39,203.40 246.26,203.41 247.13,203.44 248.01,203.46 248.88,203.49 249.75,203.53 250.63,203.57 251.50,203.62 252.37,203.66 253.25,203.72 254.12,203.78 255.00,203.84 255.87,203.91 256.74,203.98 257.62,204.06 258.49,204.14 259.36,204.22 260.24,204.31 261.11,204.41 261.98,204.51 262.86,204.61 263.73,204.72 264.60,204.83 265.48,204.95 266.35,205.07 267.22,205.20 268.10,205.33 268.97,205.47 269.85,205.61 270.72,205.75 271.59,205.90 272.47,206.06 273.34,206.22 274.21,206.38 275.09,206.55 275.96,206.72 276.83,206.90 277.71,207.08 278.61,207.27 279.53,207.46 280.48,207.67 281.44,207.88 282.43,208.09 283.44,208.32 284.47,208.55 285.52,208.79 286.60,209.04 287.70,209.29 288.81,209.55 289.96,209.82 291.12,210.09 292.31,210.38 293.51,210.67 294.74,210.96 295.99,211.27 297.27,211.58 298.56,211.89 299.88,212.22 301.22,212.55 302.58,212.89 303.97,213.24 305.37,213.59 306.80,213.95 308.25,214.32 309.72,214.70 311.21,215.08 312.73,215.47 314.27,215.86 315.83,216.27 317.41,216.68 319.01,217.10 320.64,217.52 322.29,217.95 323.96,218.39 325.65,218.84 327.36,219.29 329.10,219.76"/>
<polyline fill="none" stroke="#ff20ff" stroke-width="2.7" stroke-linecap="round" stroke-dasharray="0 4.3" points="197.43,66.16 198.82,66.17 200.20,66.20 201.56,66.26 202.91,66.33 204.25,66.43 205.58,66.55 206.89,66.70 208.19,66.86 209.47,67.05 210.75,67.26 212.00,67.49 213.25,67.75 214.48,68.03 215.70,68.32 216.91,68.65 218.10,68.99 219.28,69.35 220.45,69.74 221.60,70.15 222.74,70.58 223.87,71.04 224.98,71.51 226.08,72.01 227.17,72.53 228.24,73.07 229.30,73.64 230.35,74.22 231.38,74.83 232.41,75.46 233.41,76.11 234.41,76.79 235.39,77.49 236.36,78.20 237.31,78.95 238.25,79.71 239.18,80.49 240.10,81.30 241.00,82.13 241.89,82.98 242.77,83.86 243.64,84.75 244.51,85.67 245.39,86.61 246.26,87.58 247.13,88.56 248.01,89.57 248.88,90.60 249.75,91.65 250.63,92.72 251.50,93.82 252.37,94.93 253.25,96.07 254.12,97.23 255.00,98.42 255.87,99.62 256.74,100.85 257.62,102.10 258.49,103.37 259.36,104.67 260.24,105.99 261.11,107.32 261.98,108.68 262.86,110.07 263.73,111.47 264.60,112.90 265.48,114.35 266.35,115.82 267.22,117.31 268.10,118.83 268.97,120.37 269.85,121.93 270.72,123.51 271.59,125.11 272.47,126.74 273.34,128.39 274.21,130.06 275.09,131.75 275.96,133.47 276.83,135.20 277.71,136.96 278.61,138.72 279.53,140.47 280.48,142.23 281.44,143.99 282.43,145.76 283.44,147.52 284.47,149.28 285.52,151.05 286.60,152.82 287.70,154.59 288.81,156.36 289.96,158.13 291.12,159.90 292.31,161.67 293.51,163.45 294.74,165.23 295.99,167.00 297.27,168.78 298.56,170.56 299.88,172.34 301.22,174.13 302.58,175.91 303.97,177.70 305.37,179.48 306.80,181.27 308.25,183.06 309.72,184.85 311.21,186.65 312.73,188.44 314.27,190.23 315.83,192.03 317.41,193.83 319.01,195.63 320.64,197.42 322.29,199.23 323.96,201.03 325.65,202.83 327.36,204.64 329.10,206.44"/>
<polyline fill="none" stroke="#1a1aff" stroke-width="2.7" stroke-linecap="round" stroke-dasharray="0 4.3" points="197.43,78.44 198.82,76.78 200.20,75.21 201.56,73.73 202.91,72.34 204.25,71.03 205.58,69.81 206.89,68.69 208.19,67.65 209.47,66.69 210.75,65.83 212.00,65.06 213.25,64.37 214.48,63.77 215.70,63.26 216.91,62.84 218.10,62.51 219.28,62.27 220.45,62.11 221.60,62.05 222.74,62.07 223.87,62.18 224.98,62.38 226.08,62.67 227.17,63.04 228.24,63.51 229.30,64.06 230.35,64.70 231.38,65.43 232.41,66.25 233.41,67.16 234.41,68.15 235.39,69.24 236.36,70.41 237.31,71.67 238.25,73.02 239.18,74.46 240.10,75.99 241.00,77.60 241.89,79.31 242.77,81.09 243.64,82.89 244.51,84.66 245.39,86.41 246.26,88.15 247.13,89.87 248.01,91.57 248.88,93.25 249.75,94.92 250.63,96.56 251.50,98.19 252.37,99.80 253.25,101.39 254.12,102.97 255.00,104.52 255.87,106.06 256.74,107.58 257.62,109.08 258.49,110.56 259.36,112.02 260.24,113.47 261.11,114.90 261.98,116.31 262.86,117.70 263.73,119.07 264.60,120.42 265.48,121.76 266.35,123.08 267.22,124.38 268.10,125.66 268.97,126.92 269.85,128.17 270.72,129.39 271.59,130.60 272.47,131.79 273.34,132.97 274.21,134.12 275.09,135.26 275.96,136.37 276.83,137.47 277.71,138.55 278.61,139.61 279.53,140.63 280.48,141.64 281.44,142.61 282.43,143.56 283.44,144.49 284.47,145.38 285.52,146.26 286.60,147.10 287.70,147.92 288.81,148.71 289.96,149.48 291.12,150.22 292.31,150.94 293.51,151.63 294.74,152.29 295.99,152.93 297.27,153.54 298.56,154.12 299.88,154.68 301.22,155.22 302.58,155.72 303.97,156.21 305.37,156.66 306.80,157.09 308.25,157.49 309.72,157.87 311.21,158.22 312.73,158.55 314.27,158.85 315.83,159.12 317.41,159.36 319.01,159.59 320.64,159.78 322.29,159.95 323.96,160.09 325.65,160.21 327.36,160.30 329.10,160.36"/>
<rect x="194.89" y="131.61" width="5.08" height="5.08" fill="none" stroke="#000000" stroke-width="1.4"/>
<rect x="222.61" y="133.25" width="5.08" height="5.08" fill="none" stroke="#000000" stroke-width="1.4"/>
<rect x="257.26" y="84.09" width="5.08" height="5.08" fill="none" stroke="#000000" stroke-width="1.4"/>
<rect x="291.91" y="63.61" width="5.08" height="5.08" fill="none" stroke="#000000" stroke-width="1.4"/>
<rect x="326.56" y="57.47" width="5.08" height="5.08" fill="none" stroke="#000000" stroke-width="1.4"/>
<circle cx="197.43" cy="175.72" r="2.95" fill="none" stroke="#ff1a1a" stroke-width="1.4"/>
<circle cx="225.15" cy="198.25" r="2.95" fill="none" stroke="#ff1a1a" stroke-width="1.4"/>
<circle cx="259.80" cy="155.24" r="2.95" fill="none" stroke="#ff1a1a" stroke-width="1.4"/>
<circle cx="294.45" cy="113.26" r="2.95" fill="none" stroke="#ff1a1a" stroke-width="1.4"/>
<circle cx="329.10" cy="95.85" r="2.95" fill="none" stroke="#ff1a1a" stroke-width="1.4"/>
<polygon points="197.43,299.11 200.92,303.21 197.43,307.31 193.94,303.21" fill="none" stroke="#108a10" stroke-width="1.4"/>
<polygon points="225.15,311.91 228.63,316.01 225.15,320.11 221.67,316.01" fill="none" stroke="#108a10" stroke-width="1.4"/>
<polygon points="259.80,304.74 263.29,308.84 259.80,312.94 256.31,308.84" fill="none" stroke="#108a10" stroke-width="1.4"/>
<polygon points="294.45,241.77 297.94,245.87 294.45,249.97 290.96,245.87" fill="none" stroke="#108a10" stroke-width="1.4"/>
<polygon points="329.10,217.70 332.59,221.80 329.10,225.90 325.62,221.80" fill="none" stroke="#108a10" stroke-width="1.4"/>
<polygon points="201.53,300.96 194.36,297.06 194.36,304.85" fill="none" stroke="#a020f0" stroke-width="1.4"/>
<polygon points="229.25,313.45 222.08,309.56 222.08,317.35" fill="none" stroke="#a020f0" stroke-width="1.4"/>
<polygon points="263.90,302.70 256.73,298.81 256.73,306.59" fill="none" stroke="#a020f0" stroke-width="1.4"/>
<polygon points="298.55,309.36 291.38,305.46 291.38,313.25" fill="none" stroke="#a020f0" stroke-width="1.4"/>
<polygon points="333.20,311.92 326.03,308.02 326.03,315.81" fill="none" stroke="#a020f0" stroke-width="1.4"/>
<polygon points="193.33,218.73 200.50,214.84 200.50,222.63" fill="none" stroke="#10108a" stroke-width="1.4"/>
<polygon points="221.05,203.37 228.22,199.48 228.22,207.27" fill="none" stroke="#10108a" stroke-width="1.4"/>
<polygon points="255.70,203.37 262.88,199.48 262.88,207.27" fill="none" stroke="#10108a" stroke-width="1.4"/>
<polygon points="290.35,210.54 297.52,206.65 297.52,214.44" fill="none" stroke="#10108a" stroke-width="1.4"/>
<polygon points="325.00,219.76 332.18,215.86 332.18,223.65" fill="none" stroke="#10108a" stroke-width="1.4"/>
<polygon points="197.43,70.26 201.33,63.08 193.53,63.08" fill="none" stroke="#ff20ff" stroke-width="1.4"/>
<polygon points="225.15,70.26 229.05,63.08 221.25,63.08" fill="none" stroke="#ff20ff" stroke-width="1.4"/>
<polygon points="259.80,105.07 263.69,97.90 255.91,97.90" fill="none" stroke="#ff20ff" stroke-width="1.4"/>
<polygon points="294.45,174.70 298.34,167.53 290.56,167.53" fill="none" stroke="#ff20ff" stroke-width="1.4"/>
<polygon points="329.10,210.54 333.00,203.37 325.21,203.37" fill="none" stroke="#ff20ff" stroke-width="1.4"/>
<polygon points="197.43,74.34 201.33,81.52 193.53,81.52" fill="none" stroke="#1a1aff" stroke-width="1.4" stroke-linejoin="miter"/>
<polygon points="225.15,40.55 229.05,47.73 221.25,47.73" fill="none" stroke="#1a1aff" stroke-width="1.4" stroke-linejoin="miter"/>
<polygon points="259.80,112.23 263.69,119.41 255.91,119.41" fill="none" stroke="#1a1aff" stroke-width="1.4" stroke-linejoin="miter"/>
<polygon points="294.45,155.24 298.34,162.41 290.56,162.41" fill="none" stroke="#1a1aff" stroke-width="1.4" stroke-linejoin="miter"/>
<polygon points="329.10,156.26 333.00,163.44 325.21,163.44" fill="none" stroke="#1a1aff" stroke-width="1.4" stroke-linejoin="miter"/>
<circle cx="211.20" cy="12.10" r="1.35" fill="#000"/>
<circle cx="215.60" cy="12.10" r="1.35" fill="#000"/>
<rect x="218.39" y="9.99" width="4.22" height="4.22" fill="none" stroke="#000" stroke-width="1.2"/>
<circle cx="225.20" cy="12.10" r="1.35" fill="#000"/>
<circle cx="229.60" cy="12.10" r="1.35" fill="#000"/>
<text x="232.20" y="15.00" font-size="7.9" fill="#222" text-anchor="start"  stroke="#222" stroke-width="0.1">G</text>
<circle cx="242.70" cy="12.10" r="1.35" fill="#ff1a1a"/>
<circle cx="247.10" cy="12.10" r="1.35" fill="#ff1a1a"/>
<circle cx="252.00" cy="12.10" r="2.45" fill="none" stroke="#ff1a1a" stroke-width="1.2"/>
<circle cx="256.70" cy="12.10" r="1.35" fill="#ff1a1a"/>
<circle cx="261.10" cy="12.10" r="1.35" fill="#ff1a1a"/>
<text x="263.70" y="15.00" font-size="7.9" fill="#222" text-anchor="start"  stroke="#222" stroke-width="0.1">D<tspan dy="2.5" font-size="5">2</tspan><tspan dy="-2.5"> (D)</tspan></text>
<circle cx="287.60" cy="12.10" r="1.35" fill="#a020f0"/>
<circle cx="292.00" cy="12.10" r="1.35" fill="#a020f0"/>
<polygon points="300.30,12.10 294.35,8.87 294.35,15.33" fill="none" stroke="#a020f0" stroke-width="1.2"/>
<circle cx="301.60" cy="12.10" r="1.35" fill="#a020f0"/>
<circle cx="306.00" cy="12.10" r="1.35" fill="#a020f0"/>
<text x="308.60" y="15.00" font-size="7.9" fill="#222" text-anchor="start"  stroke="#222" stroke-width="0.1">D<tspan dy="2.5" font-size="5">4</tspan></text>
<circle cx="198.20" cy="26.70" r="1.35" fill="#1a1aff"/>
<circle cx="202.60" cy="26.70" r="1.35" fill="#1a1aff"/>
<polygon points="207.50,23.30 210.73,29.25 204.27,29.25" fill="none" stroke="#1a1aff" stroke-width="1.2" stroke-linejoin="miter"/>
<circle cx="212.20" cy="26.70" r="1.35" fill="#1a1aff"/>
<circle cx="216.60" cy="26.70" r="1.35" fill="#1a1aff"/>
<text x="219.20" y="29.60" font-size="7.9" fill="#222" text-anchor="start"  stroke="#222" stroke-width="0.1">D<tspan dy="2.5" font-size="5">3</tspan><tspan dy="-2.5">'</tspan></text>
<circle cx="231.30" cy="26.70" r="1.35" fill="#ff20ff"/>
<circle cx="235.70" cy="26.70" r="1.35" fill="#ff20ff"/>
<polygon points="240.60,30.10 243.83,24.15 237.37,24.15" fill="none" stroke="#ff20ff" stroke-width="1.2"/>
<circle cx="245.30" cy="26.70" r="1.35" fill="#ff20ff"/>
<circle cx="249.70" cy="26.70" r="1.35" fill="#ff20ff"/>
<text x="252.30" y="29.60" font-size="7.9" fill="#222" text-anchor="start"  stroke="#222" stroke-width="0.1">D<tspan dy="2.5" font-size="5">3</tspan><tspan dy="-2.5">''</tspan></text>
<circle cx="265.10" cy="26.70" r="1.35" fill="#108a10"/>
<circle cx="269.50" cy="26.70" r="1.35" fill="#108a10"/>
<polygon points="274.40,22.96 278.14,26.70 274.40,30.44 270.66,26.70" fill="none" stroke="#108a10" stroke-width="1.2"/>
<circle cx="279.10" cy="26.70" r="1.35" fill="#108a10"/>
<circle cx="283.50" cy="26.70" r="1.35" fill="#108a10"/>
<text x="286.10" y="29.60" font-size="7.9" fill="#222" text-anchor="start"  stroke="#222" stroke-width="0.1">D<tspan dy="2.5" font-size="5">1</tspan><tspan dy="-2.5">'</tspan></text>
<circle cx="298.10" cy="26.70" r="1.35" fill="#10108a"/>
<circle cx="302.50" cy="26.70" r="1.35" fill="#10108a"/>
<polygon points="304.00,26.70 309.95,23.47 309.95,29.93" fill="none" stroke="#10108a" stroke-width="1.2"/>
<circle cx="312.10" cy="26.70" r="1.35" fill="#10108a"/>
<circle cx="316.50" cy="26.70" r="1.35" fill="#10108a"/>
<text x="319.10" y="29.60" font-size="7.9" fill="#222" text-anchor="start"  stroke="#222" stroke-width="0.1">D<tspan dy="2.5" font-size="5">1</tspan><tspan dy="-2.5">''</tspan></text>
<rect x="381.5" y="21.0" width="134.89999999999998" height="143.3" fill="none" stroke="#555" stroke-width="1.1"/>
<line x1="379.00" y1="164.30" x2="381.50" y2="164.30" stroke="#555" stroke-width="1.1" />
<line x1="393.59" y1="164.30" x2="393.59" y2="166.50" stroke="#555" stroke-width="0.9" />
<line x1="393.59" y1="21.00" x2="393.59" y2="23.20" stroke="#555" stroke-width="0.9" />
<line x1="410.88" y1="164.30" x2="410.88" y2="168.30" stroke="#555" stroke-width="0.9" />
<line x1="410.88" y1="21.00" x2="410.88" y2="25.00" stroke="#555" stroke-width="0.9" />
<line x1="428.16" y1="164.30" x2="428.16" y2="166.50" stroke="#555" stroke-width="0.9" />
<line x1="428.16" y1="21.00" x2="428.16" y2="23.20" stroke="#555" stroke-width="0.9" />
<line x1="445.45" y1="164.30" x2="445.45" y2="168.30" stroke="#555" stroke-width="0.9" />
<line x1="445.45" y1="21.00" x2="445.45" y2="25.00" stroke="#555" stroke-width="0.9" />
<line x1="462.74" y1="164.30" x2="462.74" y2="166.50" stroke="#555" stroke-width="0.9" />
<line x1="462.74" y1="21.00" x2="462.74" y2="23.20" stroke="#555" stroke-width="0.9" />
<line x1="480.03" y1="164.30" x2="480.03" y2="168.30" stroke="#555" stroke-width="0.9" />
<line x1="480.03" y1="21.00" x2="480.03" y2="25.00" stroke="#555" stroke-width="0.9" />
<line x1="497.31" y1="164.30" x2="497.31" y2="166.50" stroke="#555" stroke-width="0.9" />
<line x1="497.31" y1="21.00" x2="497.31" y2="23.20" stroke="#555" stroke-width="0.9" />
<line x1="514.60" y1="164.30" x2="514.60" y2="168.30" stroke="#555" stroke-width="0.9" />
<line x1="514.60" y1="21.00" x2="514.60" y2="25.00" stroke="#555" stroke-width="0.9" />
<text x="410.88" y="176.40" font-size="7.6" fill="#222" text-anchor="middle" >150</text>
<text x="445.45" y="176.40" font-size="7.6" fill="#222" text-anchor="middle" >300</text>
<text x="480.03" y="176.40" font-size="7.6" fill="#222" text-anchor="middle" >450</text>
<text x="514.60" y="176.40" font-size="7.6" fill="#222" text-anchor="middle" >600</text>
<line x1="379.30" y1="163.75" x2="381.50" y2="163.75" stroke="#555" stroke-width="0.9" />
<line x1="377.70" y1="139.10" x2="381.50" y2="139.10" stroke="#555" stroke-width="0.9" />
<line x1="379.30" y1="114.45" x2="381.50" y2="114.45" stroke="#555" stroke-width="0.9" />
<line x1="377.70" y1="89.80" x2="381.50" y2="89.80" stroke="#555" stroke-width="0.9" />
<line x1="379.30" y1="65.15" x2="381.50" y2="65.15" stroke="#555" stroke-width="0.9" />
<line x1="377.70" y1="40.50" x2="381.50" y2="40.50" stroke="#555" stroke-width="0.9" />
<text x="375.60" y="141.60" font-size="7.6" fill="#222" text-anchor="end" >15</text>
<text x="375.60" y="92.30" font-size="7.6" fill="#222" text-anchor="end" >20</text>
<text x="375.60" y="43.00" font-size="7.6" fill="#222" text-anchor="end" >25</text>
<line x1="516.40" y1="164.30" x2="520.20" y2="164.30" stroke="#555" stroke-width="0.9" />
<line x1="516.40" y1="152.36" x2="518.60" y2="152.36" stroke="#555" stroke-width="0.9" />
<line x1="516.40" y1="140.42" x2="520.20" y2="140.42" stroke="#555" stroke-width="0.9" />
<line x1="516.40" y1="128.48" x2="518.60" y2="128.48" stroke="#555" stroke-width="0.9" />
<line x1="516.40" y1="116.54" x2="520.20" y2="116.54" stroke="#555" stroke-width="0.9" />
<line x1="516.40" y1="104.60" x2="518.60" y2="104.60" stroke="#555" stroke-width="0.9" />
<line x1="516.40" y1="92.66" x2="520.20" y2="92.66" stroke="#555" stroke-width="0.9" />
<line x1="516.40" y1="80.72" x2="518.60" y2="80.72" stroke="#555" stroke-width="0.9" />
<line x1="516.40" y1="68.78" x2="520.20" y2="68.78" stroke="#555" stroke-width="0.9" />
<line x1="516.40" y1="56.84" x2="518.60" y2="56.84" stroke="#555" stroke-width="0.9" />
<line x1="516.40" y1="44.90" x2="520.20" y2="44.90" stroke="#555" stroke-width="0.9" />
<line x1="516.40" y1="32.96" x2="518.60" y2="32.96" stroke="#555" stroke-width="0.9" />
<line x1="516.40" y1="21.02" x2="520.20" y2="21.02" stroke="#555" stroke-width="0.9" />
<text x="522.90" y="166.80" font-size="7.6" fill="#222" text-anchor="start" >40</text>
<text x="522.90" y="142.92" font-size="7.6" fill="#222" text-anchor="start" >50</text>
<text x="522.90" y="119.04" font-size="7.6" fill="#222" text-anchor="start" >60</text>
<text x="522.90" y="95.16" font-size="7.6" fill="#222" text-anchor="start" >70</text>
<text x="522.90" y="71.28" font-size="7.6" fill="#222" text-anchor="start" >80</text>
<text x="522.90" y="47.40" font-size="7.6" fill="#222" text-anchor="start" >90</text>
<text x="522.90" y="23.52" font-size="7.6" fill="#222" text-anchor="start" >100</text>
<text x="416.80" y="186.70" font-size="10" fill="#1a1a1a" text-anchor="start" textLength="72.3" lengthAdjust="spacingAndGlyphs" stroke="#1a1a1a" stroke-width="0.15">Temperature, °C</text>
<text transform="translate(362.8,92.0) rotate(-90)" font-size="8.6" fill="#1a1a1a" text-anchor="middle">Raman, A<tspan dy="2" font-size="5">i</tspan><tspan dy="-2">/A</tspan><tspan dy="2" font-size="5">Σ</tspan><tspan dy="-2"> × 100%</tspan></text>
<text transform="translate(544.3,95) rotate(-90)" font-size="8.4" fill="#1a1a1a" text-anchor="middle">XPS, ω (<tspan font-style="italic">sp</tspan><tspan dy="-3" font-size="5.5">2</tspan><tspan dy="3">) × 100 %</tspan></text>
<rect x="345.3" y="6.1" width="22.8" height="25" fill="#fff" stroke="#444" stroke-width="1"/>
<text x="356.70" y="24.60" font-size="15" fill="#111" text-anchor="middle" >(c)</text>
<polyline fill="none" stroke="#000" stroke-width="2.0" stroke-linecap="round" stroke-dasharray="0 3.6" points="383.22,100.65 384.60,100.66 385.98,100.63 387.34,100.58 388.69,100.50 390.02,100.39 391.35,100.24 392.65,100.07 393.95,99.87 395.23,99.63 396.50,99.37 397.76,99.07 399.00,98.74 400.23,98.39 401.45,98.00 402.65,97.58 403.84,97.13 405.02,96.65 406.18,96.14 407.33,95.60 408.47,95.03 409.59,94.42 410.71,93.79 411.80,93.13 412.89,92.44 413.96,91.71 415.02,90.96 416.06,90.17 417.10,89.35 418.11,88.51 419.12,87.63 420.11,86.72 421.09,85.78 422.06,84.82 423.01,83.82 423.95,82.79 424.88,81.72 425.79,80.63 426.69,79.51 427.58,78.36 428.45,77.18 429.32,76.01 430.20,74.85 431.07,73.71 431.94,72.59 432.81,71.49 433.68,70.40 434.55,69.33 435.43,68.28 436.30,67.25 437.17,66.24 438.04,65.24 438.91,64.26 439.78,63.30 440.66,62.35 441.53,61.42 442.40,60.52 443.27,59.62 444.14,58.75 445.01,57.89 445.89,57.05 446.76,56.23 447.63,55.43 448.50,54.64 449.37,53.87 450.24,53.12 451.12,52.39 451.99,51.67 452.86,50.98 453.73,50.30 454.60,49.63 455.47,48.99 456.35,48.36 457.22,47.75 458.09,47.16 458.96,46.58 459.83,46.03 460.70,45.49 461.58,44.96 462.45,44.46 463.32,43.97 464.22,43.49 465.14,43.01 466.08,42.53 467.04,42.06 468.03,41.60 469.04,41.14 470.07,40.68 471.12,40.23 472.19,39.79 473.29,39.35 474.40,38.91 475.54,38.48 476.70,38.05 477.88,37.63 479.09,37.22 480.32,36.80 481.57,36.40 482.84,36.00 484.13,35.60 485.44,35.21 486.78,34.82 488.14,34.44 489.52,34.06 490.92,33.69 492.35,33.32 493.79,32.95 495.26,32.59 496.75,32.24 498.27,31.89 499.80,31.55 501.36,31.21 502.94,30.87 504.54,30.54 506.16,30.22 507.80,29.90 509.47,29.58 511.16,29.27 512.87,28.97 514.60,28.67"/>
<polyline fill="none" stroke="#ff1a1a" stroke-width="2.3" stroke-linecap="round" stroke-dasharray="0 3.8" points="383.22,139.10 384.60,140.46 385.98,141.75 387.34,142.98 388.69,144.15 390.02,145.25 391.35,146.28 392.65,147.25 393.95,148.16 395.23,149.00 396.50,149.78 397.76,150.49 399.00,151.13 400.23,151.72 401.45,152.23 402.65,152.68 403.84,153.07 405.02,153.39 406.18,153.65 407.33,153.84 408.47,153.97 409.59,154.03 410.71,154.03 411.80,153.96 412.89,153.83 413.96,153.63 415.02,153.37 416.06,153.04 417.10,152.65 418.11,152.20 419.12,151.67 420.11,151.09 421.09,150.44 422.06,149.72 423.01,148.94 423.95,148.09 424.88,147.18 425.79,146.21 426.69,145.17 427.58,144.06 428.45,142.90 429.32,141.72 430.20,140.55 431.07,139.39 431.94,138.23 432.81,137.07 433.68,135.93 434.55,134.78 435.43,133.65 436.30,132.52 437.17,131.39 438.04,130.27 438.91,129.16 439.78,128.05 440.66,126.95 441.53,125.85 442.40,124.76 443.27,123.67 444.14,122.59 445.01,121.52 445.89,120.45 446.76,119.39 447.63,118.33 448.50,117.28 449.37,116.23 450.24,115.19 451.12,114.15 451.99,113.12 452.86,112.10 453.73,111.08 454.60,110.07 455.47,109.06 456.35,108.06 457.22,107.07 458.09,106.08 458.96,105.09 459.83,104.11 460.70,103.14 461.58,102.17 462.45,101.21 463.32,100.25 464.22,99.30 465.14,98.34 466.08,97.39 467.04,96.43 468.03,95.47 469.04,94.52 470.07,93.56 471.12,92.61 472.19,91.66 473.29,90.70 474.40,89.75 475.54,88.80 476.70,87.84 477.88,86.89 479.09,85.94 480.32,84.99 481.57,84.03 482.84,83.08 484.13,82.13 485.44,81.18 486.78,80.23 488.14,79.28 489.52,78.33 490.92,77.38 492.35,76.43 493.79,75.48 495.26,74.54 496.75,73.59 498.27,72.64 499.80,71.69 501.36,70.74 502.94,69.80 504.54,68.85 506.16,67.90 507.80,66.96 509.47,66.01 511.16,65.07 512.87,64.12 514.60,63.18"/>
<polyline fill="none" stroke="#1a1aff" stroke-width="1.3" stroke-linejoin="round"  points="383.22,153.20 384.32,152.79 385.42,152.37 386.53,151.96 387.63,151.54 388.74,151.12 389.84,150.70 390.94,150.27 392.05,149.83 393.15,149.40 394.26,148.95 395.36,148.50 396.46,148.04 397.57,147.57 398.67,147.09 399.78,146.61 400.88,146.11 401.98,145.60 403.09,145.08 404.19,144.54 405.30,144.00 406.40,143.43 407.50,142.86 408.61,142.27 409.71,141.66 410.82,141.03 411.92,140.39 413.03,139.73 414.13,139.06 415.23,138.37 416.34,137.66 417.44,136.94 418.55,136.21 419.65,135.47 420.75,134.71 421.86,133.95 422.96,133.18 424.07,132.40 425.17,131.61 426.27,130.81 427.38,130.01 428.48,129.20 429.59,128.39 430.69,127.58 431.79,126.76 432.90,125.94 434.00,125.13 435.11,124.31 436.21,123.49 437.31,122.67 438.42,121.86 439.52,121.05 440.63,120.25 441.73,119.45 442.84,118.65 443.94,117.86 445.04,117.09 446.15,116.31 447.25,115.55 448.36,114.80 449.46,114.05 450.56,113.30 451.67,112.56 452.77,111.82 453.88,111.08 454.98,110.34 456.08,109.60 457.19,108.86 458.29,108.12 459.40,107.37 460.50,106.61 461.60,105.85 462.71,105.08 463.81,104.30 464.92,103.50 466.02,102.70 467.12,101.89 468.23,101.06 469.33,100.21 470.44,99.35 471.54,98.47 472.65,97.57 473.75,96.65 474.85,95.71 475.96,94.75 477.06,93.77 478.17,92.76 479.27,91.72 480.37,90.66 481.48,89.57 482.58,88.46 483.69,87.31 484.79,86.15 485.89,84.96 487.00,83.74 488.10,82.51 489.21,81.25 490.31,79.97 491.41,78.68 492.52,77.36 493.62,76.03 494.73,74.68 495.83,73.31 496.93,71.93 498.04,70.53 499.14,69.12 500.25,67.70 501.35,66.27 502.46,64.83 503.56,63.37 504.66,61.91 505.77,60.44 506.87,58.96 507.98,57.48 509.08,55.99 510.18,54.50 511.29,53.00 512.39,51.50 513.50,50.00 514.60,48.50"/>
<polygon points="383.22,149.23 387.07,153.08 383.22,156.93 379.37,153.08" fill="#fff" stroke="#1a1aff" stroke-width="1.4"/>
<polygon points="410.88,137.29 414.73,141.14 410.88,144.99 407.02,141.14" fill="#fff" stroke="#1a1aff" stroke-width="1.4"/>
<polygon points="445.45,110.54 449.30,114.39 445.45,118.24 441.60,114.39" fill="#fff" stroke="#1a1aff" stroke-width="1.4"/>
<polygon points="480.03,88.33 483.88,92.18 480.03,96.03 476.18,92.18" fill="#fff" stroke="#1a1aff" stroke-width="1.4"/>
<polygon points="514.60,43.68 518.45,47.53 514.60,51.38 510.75,47.53" fill="#fff" stroke="#1a1aff" stroke-width="1.4"/>
<rect x="380.61" y="98.04" width="5.21" height="5.21" fill="#fff" stroke="#111" stroke-width="1.2"/>
<rect x="408.27" y="98.53" width="5.21" height="5.21" fill="#fff" stroke="#111" stroke-width="1.2"/>
<rect x="442.85" y="51.40" width="5.21" height="5.21" fill="#fff" stroke="#111" stroke-width="1.2"/>
<rect x="477.42" y="31.98" width="5.21" height="5.21" fill="#fff" stroke="#111" stroke-width="1.2"/>
<rect x="512.00" y="26.06" width="5.21" height="5.21" fill="#fff" stroke="#111" stroke-width="1.2"/>
<circle cx="383.22" cy="139.49" r="3.02" fill="#fff" stroke="#ff1a1a" stroke-width="1.3"/>
<circle cx="410.88" cy="162.07" r="3.02" fill="#fff" stroke="#ff1a1a" stroke-width="1.3"/>
<circle cx="445.45" cy="119.87" r="3.02" fill="#fff" stroke="#ff1a1a" stroke-width="1.3"/>
<circle cx="480.03" cy="79.25" r="3.02" fill="#fff" stroke="#ff1a1a" stroke-width="1.3"/>
<circle cx="514.60" cy="63.18" r="3.02" fill="#fff" stroke="#ff1a1a" stroke-width="1.3"/>
<text x="420.80" y="60.10" font-size="11" fill="#111" text-anchor="start" stroke="#111" stroke-width="0.35">G</text>
<line x1="436.90" y1="68.30" x2="420.00" y2="68.30" stroke="#111" stroke-width="1.9" />
<polygon fill="#111" points="414.90,68.30 422.40,65.10 422.40,71.50"/>
<text x="442.60" y="85.30" font-size="10.6" fill="#ff1a1a" text-anchor="start" stroke="#ff1a1a" stroke-width="0.3">D<tspan dy="3.4" font-size="7">2</tspan><tspan dy="-3.4"> (D)</tspan></text>
<line x1="466.70" y1="95.60" x2="440.00" y2="95.60" stroke="#ff1a1a" stroke-width="1.9" />
<polygon fill="#ff1a1a" points="434.10,95.60 441.60,92.40 441.60,98.80"/>
<line x1="482.70" y1="95.20" x2="509.00" y2="95.20" stroke="#1a1aff" stroke-width="1.9" />
<polygon fill="#1a1aff" points="515.60,95.20 508.10,98.40 508.10,92.00"/>
<text x="490.50" y="114.50" font-size="11" fill="#1a1aff" text-anchor="start" stroke="#1a1aff" stroke-width="0.3"><tspan font-style="italic">sp</tspan><tspan dy="-4.2" font-size="7">2</tspan></text>
<rect x="381.3" y="192.9" width="135.99999999999994" height="135.6" fill="none" stroke="#777" stroke-width="1.1"/>
<line x1="377.80" y1="328.50" x2="381.30" y2="328.50" stroke="#777" stroke-width="1.1" />
<line x1="394.19" y1="328.50" x2="394.19" y2="330.70" stroke="#666" stroke-width="0.9" />
<line x1="394.19" y1="192.90" x2="394.19" y2="195.10" stroke="#666" stroke-width="0.9" />
<line x1="411.47" y1="328.50" x2="411.47" y2="332.50" stroke="#666" stroke-width="0.9" />
<line x1="411.47" y1="192.90" x2="411.47" y2="196.90" stroke="#666" stroke-width="0.9" />
<line x1="428.76" y1="328.50" x2="428.76" y2="330.70" stroke="#666" stroke-width="0.9" />
<line x1="428.76" y1="192.90" x2="428.76" y2="195.10" stroke="#666" stroke-width="0.9" />
<line x1="446.05" y1="328.50" x2="446.05" y2="332.50" stroke="#666" stroke-width="0.9" />
<line x1="446.05" y1="192.90" x2="446.05" y2="196.90" stroke="#666" stroke-width="0.9" />
<line x1="463.34" y1="328.50" x2="463.34" y2="330.70" stroke="#666" stroke-width="0.9" />
<line x1="463.34" y1="192.90" x2="463.34" y2="195.10" stroke="#666" stroke-width="0.9" />
<line x1="480.62" y1="328.50" x2="480.62" y2="332.50" stroke="#666" stroke-width="0.9" />
<line x1="480.62" y1="192.90" x2="480.62" y2="196.90" stroke="#666" stroke-width="0.9" />
<line x1="497.91" y1="328.50" x2="497.91" y2="330.70" stroke="#666" stroke-width="0.9" />
<line x1="497.91" y1="192.90" x2="497.91" y2="195.10" stroke="#666" stroke-width="0.9" />
<line x1="515.20" y1="328.50" x2="515.20" y2="332.50" stroke="#666" stroke-width="0.9" />
<line x1="515.20" y1="192.90" x2="515.20" y2="196.90" stroke="#666" stroke-width="0.9" />
<text x="411.47" y="341.50" font-size="7.6" fill="#222" text-anchor="middle" >150</text>
<text x="446.05" y="341.50" font-size="7.6" fill="#222" text-anchor="middle" >300</text>
<text x="480.62" y="341.50" font-size="7.6" fill="#222" text-anchor="middle" >450</text>
<text x="515.20" y="341.50" font-size="7.6" fill="#222" text-anchor="middle" >600</text>
<line x1="377.50" y1="328.30" x2="381.30" y2="328.30" stroke="#666" stroke-width="0.9" />
<line x1="379.10" y1="317.05" x2="381.30" y2="317.05" stroke="#666" stroke-width="0.9" />
<text x="376.00" y="330.80" font-size="7.6" fill="#222" text-anchor="end" >0</text>
<line x1="377.50" y1="305.80" x2="381.30" y2="305.80" stroke="#666" stroke-width="0.9" />
<line x1="379.10" y1="294.55" x2="381.30" y2="294.55" stroke="#666" stroke-width="0.9" />
<text x="376.00" y="308.30" font-size="7.6" fill="#222" text-anchor="end" >5</text>
<line x1="377.50" y1="283.30" x2="381.30" y2="283.30" stroke="#666" stroke-width="0.9" />
<line x1="379.10" y1="272.05" x2="381.30" y2="272.05" stroke="#666" stroke-width="0.9" />
<text x="376.00" y="285.80" font-size="7.6" fill="#222" text-anchor="end" >10</text>
<line x1="377.50" y1="260.80" x2="381.30" y2="260.80" stroke="#666" stroke-width="0.9" />
<line x1="379.10" y1="249.55" x2="381.30" y2="249.55" stroke="#666" stroke-width="0.9" />
<text x="376.00" y="263.30" font-size="7.6" fill="#222" text-anchor="end" >15</text>
<line x1="377.50" y1="238.30" x2="381.30" y2="238.30" stroke="#666" stroke-width="0.9" />
<line x1="379.10" y1="227.05" x2="381.30" y2="227.05" stroke="#666" stroke-width="0.9" />
<text x="376.00" y="240.80" font-size="7.6" fill="#222" text-anchor="end" >20</text>
<line x1="377.50" y1="215.80" x2="381.30" y2="215.80" stroke="#666" stroke-width="0.9" />
<line x1="379.10" y1="204.55" x2="381.30" y2="204.55" stroke="#666" stroke-width="0.9" />
<text x="376.00" y="218.30" font-size="7.6" fill="#222" text-anchor="end" >25</text>
<line x1="377.50" y1="193.30" x2="381.30" y2="193.30" stroke="#666" stroke-width="0.9" />
<text x="376.00" y="195.80" font-size="7.6" fill="#222" text-anchor="end" >30</text>
<line x1="517.30" y1="324.20" x2="521.10" y2="324.20" stroke="#666" stroke-width="0.9" />
<line x1="517.30" y1="309.20" x2="519.50" y2="309.20" stroke="#666" stroke-width="0.9" />
<text x="523.20" y="326.70" font-size="7.6" fill="#222" text-anchor="start" >0</text>
<line x1="517.30" y1="294.20" x2="521.10" y2="294.20" stroke="#666" stroke-width="0.9" />
<line x1="517.30" y1="279.20" x2="519.50" y2="279.20" stroke="#666" stroke-width="0.9" />
<text x="523.20" y="296.70" font-size="7.6" fill="#222" text-anchor="start" >5</text>
<line x1="517.30" y1="264.20" x2="521.10" y2="264.20" stroke="#666" stroke-width="0.9" />
<line x1="517.30" y1="249.20" x2="519.50" y2="249.20" stroke="#666" stroke-width="0.9" />
<text x="523.20" y="266.70" font-size="7.6" fill="#222" text-anchor="start" >10</text>
<line x1="517.30" y1="234.20" x2="521.10" y2="234.20" stroke="#666" stroke-width="0.9" />
<line x1="517.30" y1="219.20" x2="519.50" y2="219.20" stroke="#666" stroke-width="0.9" />
<text x="523.20" y="236.70" font-size="7.6" fill="#222" text-anchor="start" >15</text>
<line x1="517.30" y1="204.20" x2="521.10" y2="204.20" stroke="#666" stroke-width="0.9" />
<text x="523.20" y="206.70" font-size="7.6" fill="#222" text-anchor="start" >20</text>
<text x="425.10" y="359.50" font-size="10" fill="#1a1a1a" text-anchor="start" textLength="69.5" lengthAdjust="spacingAndGlyphs" stroke="#1a1a1a" stroke-width="0.15">Temperature, °C</text>
<text transform="translate(362.8,261.5) rotate(-90)" font-size="8.6" fill="#1a1a1a" text-anchor="middle">Raman, A<tspan dy="2" font-size="5">i</tspan><tspan dy="-2">/A</tspan><tspan dy="2" font-size="5">Σ</tspan><tspan dy="-2"> × 100%</tspan></text>
<text transform="translate(544.6,257) rotate(-90)" font-size="8.8" fill="#1a1a1a" text-anchor="middle">XPS, ω × 100%</text>
<rect x="345.9" y="176.3" width="22.7" height="24.1" fill="#fff" stroke="#444" stroke-width="1"/>
<text x="357.25" y="194.35" font-size="15" fill="#111" text-anchor="middle" >(d)</text>
<polyline fill="none" stroke="#22dd22" stroke-width="1.3" stroke-linejoin="round"  points="383.20,237.00 384.31,237.99 385.42,238.98 386.53,239.96 387.64,240.94 388.75,241.91 389.86,242.88 390.96,243.83 392.07,244.77 393.18,245.70 394.29,246.61 395.40,247.51 396.51,248.39 397.62,249.24 398.73,250.08 399.84,250.88 400.95,251.67 402.06,252.42 403.17,253.15 404.28,253.85 405.38,254.51 406.49,255.14 407.60,255.73 408.71,256.28 409.82,256.80 410.93,257.27 412.04,257.70 413.15,258.09 414.26,258.44 415.37,258.76 416.48,259.04 417.59,259.29 418.70,259.52 419.81,259.72 420.91,259.91 422.02,260.07 423.13,260.23 424.24,260.38 425.35,260.52 426.46,260.65 427.57,260.79 428.68,260.93 429.79,261.08 430.90,261.24 432.01,261.41 433.12,261.60 434.23,261.81 435.33,262.04 436.44,262.30 437.55,262.59 438.66,262.91 439.77,263.27 440.88,263.67 441.99,264.11 443.10,264.60 444.21,265.14 445.32,265.73 446.43,266.37 447.54,267.07 448.65,267.83 449.75,268.64 450.86,269.49 451.97,270.39 453.08,271.33 454.19,272.31 455.30,273.32 456.41,274.37 457.52,275.45 458.63,276.56 459.74,277.69 460.85,278.84 461.96,280.01 463.07,281.20 464.17,282.40 465.28,283.61 466.39,284.83 467.50,286.06 468.61,287.28 469.72,288.51 470.83,289.73 471.94,290.94 473.05,292.15 474.16,293.34 475.27,294.52 476.38,295.68 477.49,296.82 478.59,297.93 479.70,299.02 480.81,300.08 481.92,301.11 483.03,302.11 484.14,303.08 485.25,304.03 486.36,304.95 487.47,305.84 488.58,306.71 489.69,307.55 490.80,308.38 491.91,309.18 493.02,309.96 494.12,310.72 495.23,311.47 496.34,312.19 497.45,312.90 498.56,313.60 499.67,314.28 500.78,314.94 501.89,315.59 503.00,316.24 504.11,316.87 505.22,317.49 506.33,318.10 507.44,318.70 508.54,319.30 509.65,319.89 510.76,320.48 511.87,321.06 512.98,321.64 514.09,322.22 515.20,322.80"/>
<polyline fill="none" stroke="#1a1aff" stroke-width="1.3" stroke-linejoin="round"  points="383.20,203.70 384.31,204.12 385.42,204.54 386.53,204.97 387.64,205.39 388.75,205.81 389.86,206.24 390.96,206.66 392.07,207.09 393.18,207.52 394.29,207.95 395.40,208.38 396.51,208.82 397.62,209.25 398.73,209.69 399.84,210.14 400.95,210.58 402.06,211.03 403.17,211.49 404.28,211.94 405.38,212.40 406.49,212.87 407.60,213.34 408.71,213.81 409.82,214.29 410.93,214.77 412.04,215.26 413.15,215.75 414.26,216.26 415.37,216.77 416.48,217.30 417.59,217.84 418.70,218.39 419.81,218.97 420.91,219.56 422.02,220.18 423.13,220.82 424.24,221.48 425.35,222.17 426.46,222.89 427.57,223.65 428.68,224.43 429.79,225.25 430.90,226.10 432.01,226.99 433.12,227.92 434.23,228.90 435.33,229.92 436.44,230.98 437.55,232.09 438.66,233.25 439.77,234.46 440.88,235.72 441.99,237.04 443.10,238.41 444.21,239.84 445.32,241.33 446.43,242.89 447.54,244.50 448.65,246.17 449.75,247.89 450.86,249.66 451.97,251.47 453.08,253.33 454.19,255.22 455.30,257.13 456.41,259.08 457.52,261.05 458.63,263.04 459.74,265.04 460.85,267.05 461.96,269.07 463.07,271.10 464.17,273.11 465.28,275.13 466.39,277.13 467.50,279.12 468.61,281.09 469.72,283.03 470.83,284.95 471.94,286.84 473.05,288.69 474.16,290.50 475.27,292.27 476.38,293.99 477.49,295.66 478.59,297.27 479.70,298.83 480.81,300.31 481.92,301.74 483.03,303.10 484.14,304.39 485.25,305.63 486.36,306.82 487.47,307.94 488.58,309.02 489.69,310.04 490.80,311.02 491.91,311.95 493.02,312.83 494.12,313.68 495.23,314.48 496.34,315.25 497.45,315.98 498.56,316.67 499.67,317.34 500.78,317.97 501.89,318.58 503.00,319.16 504.11,319.72 505.22,320.26 506.33,320.78 507.44,321.28 508.54,321.77 509.65,322.24 510.76,322.71 511.87,323.16 512.98,323.61 514.09,324.06 515.20,324.50"/>
<polyline fill="none" stroke="#ff1a1a" stroke-width="1.3" stroke-linejoin="round"  points="383.20,306.60 384.31,306.82 385.42,307.03 386.53,307.25 387.64,307.46 388.75,307.67 389.86,307.87 390.96,308.07 392.07,308.26 393.18,308.44 394.29,308.62 395.40,308.78 396.51,308.94 397.62,309.08 398.73,309.21 399.84,309.33 400.95,309.43 402.06,309.52 403.17,309.59 404.28,309.64 405.38,309.68 406.49,309.69 407.60,309.69 408.71,309.66 409.82,309.62 410.93,309.55 412.04,309.45 413.15,309.33 414.26,309.19 415.37,309.03 416.48,308.84 417.59,308.64 418.70,308.42 419.81,308.18 420.91,307.92 422.02,307.65 423.13,307.36 424.24,307.06 425.35,306.74 426.46,306.42 427.57,306.08 428.68,305.74 429.79,305.38 430.90,305.02 432.01,304.66 433.12,304.29 434.23,303.91 435.33,303.53 436.44,303.15 437.55,302.77 438.66,302.39 439.77,302.01 440.88,301.63 441.99,301.25 443.10,300.88 444.21,300.51 445.32,300.15 446.43,299.80 447.54,299.46 448.65,299.12 449.75,298.80 450.86,298.49 451.97,298.19 453.08,297.91 454.19,297.64 455.30,297.38 456.41,297.15 457.52,296.93 458.63,296.73 459.74,296.55 460.85,296.40 461.96,296.27 463.07,296.16 464.17,296.08 465.28,296.02 466.39,295.99 467.50,295.99 468.61,296.02 469.72,296.07 470.83,296.16 471.94,296.27 473.05,296.41 474.16,296.58 475.27,296.77 476.38,297.00 477.49,297.26 478.59,297.54 479.70,297.85 480.81,298.19 481.92,298.56 483.03,298.96 484.14,299.38 485.25,299.83 486.36,300.30 487.47,300.80 488.58,301.32 489.69,301.87 490.80,302.43 491.91,303.01 493.02,303.62 494.12,304.24 495.23,304.88 496.34,305.53 497.45,306.20 498.56,306.89 499.67,307.59 500.78,308.30 501.89,309.02 503.00,309.76 504.11,310.50 505.22,311.25 506.33,312.02 507.44,312.79 508.54,313.56 509.65,314.34 510.76,315.13 511.87,315.92 512.98,316.71 514.09,317.50 515.20,318.30"/>
<polyline fill="none" stroke="#111" stroke-width="1.1" stroke-linejoin="round"  points="383.20,310.30 411.50,312.30 445.80,316.00 480.20,316.60 515.20,322.30"/>
<polyline fill="none" stroke="#902090" stroke-width="2.0" stroke-linecap="round" stroke-dasharray="0 4.2" points="383.20,317.20 384.31,317.47 385.42,317.73 386.53,317.98 387.64,318.22 388.75,318.45 389.86,318.68 390.96,318.89 392.07,319.09 393.18,319.29 394.29,319.47 395.40,319.64 396.51,319.81 397.62,319.96 398.73,320.10 399.84,320.23 400.95,320.35 402.06,320.46 403.17,320.55 404.28,320.64 405.38,320.71 406.49,320.77 407.60,320.82 408.71,320.86 409.82,320.89 410.93,320.90 412.04,320.90 413.15,320.89 414.26,320.86 415.37,320.83 416.48,320.79 417.59,320.73 418.70,320.67 419.81,320.59 420.91,320.51 422.02,320.41 423.13,320.31 424.24,320.20 425.35,320.08 426.46,319.95 427.57,319.81 428.68,319.67 429.79,319.51 430.90,319.35 432.01,319.19 433.12,319.01 434.23,318.83 435.33,318.64 436.44,318.45 437.55,318.25 438.66,318.04 439.77,317.83 440.88,317.61 441.99,317.39 443.10,317.17 444.21,316.94 445.32,316.70 446.43,316.45 447.54,316.14 448.65,315.77 449.75,315.34 450.86,314.86 451.97,314.34 453.08,313.77 454.19,313.18 455.30,312.56 456.41,311.91 457.52,311.26 458.63,310.59 459.74,309.92 460.85,309.26 461.96,308.60 463.07,307.96 464.17,307.31 465.28,306.62 466.39,305.89 467.50,305.14 468.61,304.38 469.72,303.59 470.83,302.80 471.94,302.01 473.05,301.22 474.16,300.44 475.27,299.68 476.38,298.93 477.49,298.21 478.59,297.53 479.70,296.88 480.81,296.26 481.92,295.66 483.03,295.06 484.14,294.46 485.25,293.87 486.36,293.29 487.47,292.70 488.58,292.13 489.69,291.56 490.80,291.00 491.91,290.44 493.02,289.89 494.12,289.35 495.23,288.81 496.34,288.29 497.45,287.77 498.56,287.26 499.67,286.76 500.78,286.26 501.89,285.78 503.00,285.30 504.11,284.84 505.22,284.39 506.33,283.94 507.44,283.51 508.54,283.09 509.65,282.68 510.76,282.28 511.87,281.89 512.98,281.51 514.09,281.15 515.20,280.80"/>
<polyline fill="none" stroke="#ff8a1a" stroke-width="2.0" stroke-linecap="round" stroke-dasharray="0 4.2" points="383.81,217.90 385.20,217.20 386.58,216.53 387.94,215.91 389.29,215.32 390.62,214.77 391.95,214.26 393.25,213.79 394.55,213.35 395.83,212.96 397.10,212.60 398.36,212.28 399.60,212.00 400.83,211.75 402.05,211.55 403.25,211.38 404.44,211.25 405.62,211.16 406.78,211.11 407.93,211.10 409.07,211.12 410.19,211.18 411.31,211.28 412.40,211.42 413.49,211.60 414.56,211.81 415.62,212.06 416.66,212.36 417.70,212.68 418.71,213.05 419.72,213.46 420.71,213.90 421.69,214.38 422.66,214.90 423.61,215.46 424.55,216.06 425.48,216.70 426.39,217.37 427.29,218.08 428.18,218.83 429.05,219.61 429.92,220.40 430.80,221.18 431.67,221.95 432.54,222.71 433.41,223.47 434.28,224.21 435.15,224.95 436.03,225.68 436.90,226.40 437.77,227.12 438.64,227.82 439.51,228.52 440.38,229.21 441.26,229.89 442.13,230.56 443.00,231.23 443.87,231.88 444.74,232.53 445.61,233.17 446.49,233.80 447.36,234.43 448.23,235.04 449.10,235.65 449.97,236.25 450.84,236.84 451.72,237.42 452.59,237.99 453.46,238.56 454.33,239.12 455.20,239.67 456.07,240.21 456.95,240.74 457.82,241.27 458.69,241.78 459.56,242.29 460.43,242.79 461.30,243.28 462.18,243.77 463.05,244.24 463.92,244.71 464.82,245.17 465.74,245.61 466.68,246.05 467.64,246.47 468.63,246.89 469.64,247.29 470.67,247.68 471.72,248.06 472.79,248.43 473.89,248.79 475.00,249.14 476.14,249.48 477.30,249.81 478.48,250.13 479.69,250.44 480.92,250.73 482.17,251.02 483.44,251.29 484.73,251.56 486.04,251.81 487.38,252.05 488.74,252.29 490.12,252.51 491.52,252.72 492.95,252.92 494.39,253.11 495.86,253.29 497.35,253.45 498.87,253.61 500.40,253.76 501.96,253.90 503.54,254.02 505.14,254.14 506.76,254.24 508.40,254.33 510.07,254.42 511.76,254.49 513.47,254.55 515.20,254.60"/>
<polyline fill="none" stroke="#ff20ff" stroke-width="2.0" stroke-linecap="round" stroke-dasharray="0 4.2" points="383.81,211.30 385.20,211.28 386.58,211.27 387.94,211.28 389.29,211.30 390.62,211.32 391.95,211.37 393.25,211.42 394.55,211.48 395.83,211.56 397.10,211.65 398.36,211.75 399.60,211.87 400.83,211.99 402.05,212.13 403.25,212.28 404.44,212.44 405.62,212.62 406.78,212.80 407.93,213.00 409.07,213.21 410.19,213.43 411.31,213.67 412.40,213.91 413.49,214.17 414.56,214.44 415.62,214.73 416.66,215.02 417.70,215.33 418.71,215.65 419.72,215.98 420.71,216.32 421.69,216.68 422.66,217.04 423.61,217.42 424.55,217.81 425.48,218.22 426.39,218.63 427.29,219.06 428.18,219.50 429.05,219.95 429.92,220.41 430.80,220.88 431.67,221.35 432.54,221.84 433.41,222.33 434.28,222.82 435.15,223.33 436.03,223.84 436.90,224.36 437.77,224.89 438.64,225.42 439.51,225.96 440.38,226.51 441.26,227.07 442.13,227.63 443.00,228.20 443.87,228.78 444.74,229.37 445.61,229.96 446.49,230.56 447.36,231.17 448.23,231.79 449.10,232.41 449.97,233.04 450.84,233.68 451.72,234.33 452.59,234.98 453.46,235.64 454.33,236.31 455.20,236.99 456.07,237.67 456.95,238.36 457.82,239.06 458.69,239.76 459.56,240.48 460.43,241.20 461.30,241.92 462.18,242.66 463.05,243.40 463.92,244.15 464.82,244.90 465.74,245.65 466.68,246.40 467.64,247.15 468.63,247.90 469.64,248.65 470.67,249.40 471.72,250.15 472.79,250.90 473.89,251.65 475.00,252.40 476.14,253.15 477.30,253.90 478.48,254.65 479.69,255.40 480.92,256.16 482.17,256.91 483.44,257.66 484.73,258.41 486.04,259.16 487.38,259.92 488.74,260.67 490.12,261.42 491.52,262.18 492.95,262.93 494.39,263.68 495.86,264.44 497.35,265.19 498.87,265.95 500.40,266.70 501.96,267.46 503.54,268.21 505.14,268.97 506.76,269.72 508.40,270.48 510.07,271.23 511.76,271.99 513.47,272.74 515.20,273.50"/>
<rect x="381.83" y="315.42" width="3.97" height="3.97" fill="#902090" stroke="#902090" stroke-width="0.8"/>
<rect x="409.49" y="320.22" width="3.97" height="3.97" fill="#902090" stroke="#902090" stroke-width="0.8"/>
<rect x="444.07" y="318.02" width="3.97" height="3.97" fill="#902090" stroke="#902090" stroke-width="0.8"/>
<rect x="478.64" y="290.02" width="3.97" height="3.97" fill="#902090" stroke="#902090" stroke-width="0.8"/>
<rect x="513.22" y="279.02" width="3.97" height="3.97" fill="#902090" stroke="#902090" stroke-width="0.8"/>
<circle cx="383.81" cy="217.90" r="2.38" fill="#ff8a1a" stroke="#ff8a1a" stroke-width="0.8"/>
<circle cx="411.47" cy="203.60" r="2.38" fill="#ff8a1a" stroke="#ff8a1a" stroke-width="0.8"/>
<circle cx="446.05" cy="235.10" r="2.38" fill="#ff8a1a" stroke="#ff8a1a" stroke-width="0.8"/>
<circle cx="480.62" cy="253.70" r="2.38" fill="#ff8a1a" stroke="#ff8a1a" stroke-width="0.8"/>
<circle cx="515.20" cy="254.60" r="2.38" fill="#ff8a1a" stroke="#ff8a1a" stroke-width="0.8"/>
<polygon points="383.81,208.30 386.67,213.55 380.96,213.55" fill="#ff20ff" stroke="#ff20ff" stroke-width="0.8" stroke-linejoin="miter"/>
<polygon points="411.47,207.80 414.32,213.05 408.62,213.05" fill="#ff20ff" stroke="#ff20ff" stroke-width="0.8" stroke-linejoin="miter"/>
<polygon points="446.05,225.80 448.90,231.05 443.20,231.05" fill="#ff20ff" stroke="#ff20ff" stroke-width="0.8" stroke-linejoin="miter"/>
<polygon points="480.62,255.50 483.48,260.75 477.77,260.75" fill="#ff20ff" stroke="#ff20ff" stroke-width="0.8" stroke-linejoin="miter"/>
<polygon points="515.20,270.50 518.05,275.75 512.35,275.75" fill="#ff20ff" stroke="#ff20ff" stroke-width="0.8" stroke-linejoin="miter"/>
<polygon points="383.81,233.70 387.43,240.35 380.20,240.35" fill="none" stroke="#22dd22" stroke-width="1.2" stroke-linejoin="miter"/>
<polygon points="411.47,255.50 415.08,262.15 407.86,262.15" fill="none" stroke="#22dd22" stroke-width="1.2" stroke-linejoin="miter"/>
<polygon points="446.05,256.20 449.66,262.85 442.44,262.85" fill="none" stroke="#22dd22" stroke-width="1.2" stroke-linejoin="miter"/>
<polygon points="480.62,295.90 484.24,302.55 477.01,302.55" fill="none" stroke="#22dd22" stroke-width="1.2" stroke-linejoin="miter"/>
<polygon points="515.20,320.90 518.81,327.55 511.59,327.55" fill="none" stroke="#22dd22" stroke-width="1.2" stroke-linejoin="miter"/>
<rect x="381.58" y="308.17" width="4.46" height="4.46" fill="#fff" stroke="#111" stroke-width="1.2"/>
<rect x="409.24" y="310.57" width="4.46" height="4.46" fill="#fff" stroke="#111" stroke-width="1.2"/>
<rect x="443.82" y="313.47" width="4.46" height="4.46" fill="#fff" stroke="#111" stroke-width="1.2"/>
<rect x="478.39" y="313.77" width="4.46" height="4.46" fill="#fff" stroke="#111" stroke-width="1.2"/>
<rect x="512.97" y="320.47" width="4.46" height="4.46" fill="#fff" stroke="#111" stroke-width="1.2"/>
<circle cx="383.81" cy="306.60" r="2.88" fill="#fff" stroke="#ff1a1a" stroke-width="1.2"/>
<circle cx="411.47" cy="310.40" r="2.88" fill="#fff" stroke="#ff1a1a" stroke-width="1.2"/>
<circle cx="446.05" cy="300.10" r="2.88" fill="#fff" stroke="#ff1a1a" stroke-width="1.2"/>
<circle cx="480.62" cy="291.00" r="2.88" fill="#fff" stroke="#ff1a1a" stroke-width="1.2"/>
<circle cx="515.20" cy="318.60" r="2.88" fill="#fff" stroke="#ff1a1a" stroke-width="1.2"/>
<polygon points="383.81,207.40 387.33,200.92 380.30,200.92" fill="#fff" stroke="#1a1aff" stroke-width="1.3"/>
<polygon points="411.47,219.40 414.99,212.92 407.96,212.92" fill="#fff" stroke="#1a1aff" stroke-width="1.3"/>
<polygon points="446.05,246.20 449.56,239.72 442.53,239.72" fill="#fff" stroke="#1a1aff" stroke-width="1.3"/>
<polygon points="480.62,307.70 484.14,301.23 477.11,301.23" fill="#fff" stroke="#1a1aff" stroke-width="1.3"/>
<polygon points="515.20,329.50 518.72,323.03 511.69,323.03" fill="#fff" stroke="#1a1aff" stroke-width="1.3"/>
<text x="410.00" y="241.90" font-size="8" fill="#1a1aff" text-anchor="start" textLength="21" lengthAdjust="spacingAndGlyphs" stroke="#1a1aff" stroke-width="0.15">-C-OH</text>
<text x="388.00" y="261.40" font-size="8" fill="#18c818" text-anchor="start" textLength="18.3" lengthAdjust="spacingAndGlyphs" stroke="#18c818" stroke-width="0.15">&gt;C=O</text>
<text x="418.60" y="296.20" font-size="8" fill="#ff1a1a" text-anchor="start" textLength="25" lengthAdjust="spacingAndGlyphs" stroke="#ff1a1a" stroke-width="0.15">-C-O-C-</text>
<text x="453.90" y="324.40" font-size="8" fill="#111" text-anchor="start" textLength="22" lengthAdjust="spacingAndGlyphs" stroke="#111" stroke-width="0.15">-COOH</text>
<line x1="461.60" y1="245.10" x2="453.00" y2="245.10" stroke="#ff8a1a" stroke-width="1.0" />
<polygon fill="#ff8a1a" points="450.10,245.10 454.10,243.30 454.10,246.90"/>
<line x1="492.30" y1="265.00" x2="482.00" y2="265.00" stroke="#ff20ff" stroke-width="1.0" />
<polygon fill="#ff20ff" points="478.80,265.00 482.80,263.20 482.80,266.80"/>
<line x1="397.70" y1="321.20" x2="387.00" y2="322.40" stroke="#902090" stroke-width="1.0" />
<polygon fill="#902090" points="383.60,322.70 387.39,320.49 387.77,324.07"/>
<rect x="476.2" y="195.4" width="40" height="48.5" fill="#fff" stroke="#777" stroke-width="0.8"/>
<circle cx="477.6" cy="202.7" r="1.0" fill="#902090"/>
<circle cx="480.8" cy="202.7" r="1.0" fill="#902090"/>
<circle cx="491.2" cy="202.7" r="1.0" fill="#902090"/>
<circle cx="494.5" cy="202.7" r="1.0" fill="#902090"/>
<rect x="485.74" y="200.84" width="3.72" height="3.72" fill="#902090" stroke="#902090" stroke-width="0.8"/>
<text x="499.40" y="206.30" font-size="9.8" fill="#222" text-anchor="start" >D<tspan dy="3" font-size="6">1</tspan><tspan dy="-3">'</tspan></text>
<circle cx="477.6" cy="219.1" r="1.0" fill="#ff8a1a"/>
<circle cx="480.8" cy="219.1" r="1.0" fill="#ff8a1a"/>
<circle cx="491.2" cy="219.1" r="1.0" fill="#ff8a1a"/>
<circle cx="494.5" cy="219.1" r="1.0" fill="#ff8a1a"/>
<circle cx="487.60" cy="219.10" r="2.16" fill="#ff8a1a" stroke="#ff8a1a" stroke-width="0.8"/>
<text x="499.40" y="222.70" font-size="9.8" fill="#222" text-anchor="start" >D<tspan dy="3" font-size="6">3</tspan><tspan dy="-3">'</tspan></text>
<circle cx="477.6" cy="234.9" r="1.0" fill="#ff20ff"/>
<circle cx="480.8" cy="234.9" r="1.0" fill="#ff20ff"/>
<circle cx="491.2" cy="234.9" r="1.0" fill="#ff20ff"/>
<circle cx="494.5" cy="234.9" r="1.0" fill="#ff20ff"/>
<polygon points="487.60,231.90 490.45,237.15 484.75,237.15" fill="#ff20ff" stroke="#ff20ff" stroke-width="0.8" stroke-linejoin="miter"/>
<text x="499.40" y="238.50" font-size="9.8" fill="#222" text-anchor="start" >D<tspan dy="3" font-size="6">3</tspan><tspan dy="-3">''</tspan></text>
</svg></body></html>
